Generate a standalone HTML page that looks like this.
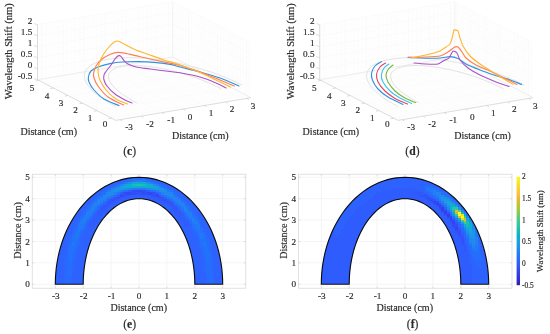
<!DOCTYPE html>
<html><head><meta charset="utf-8"><title>Figure</title>
<style>html,body{margin:0;padding:0;background:#fff}svg{display:block}text{font-family:"Liberation Serif", serif;fill:#2a2a2a;stroke:#2a2a2a;stroke-width:0.16px}</style>
</head><body>
<svg width="550" height="334" viewBox="0 0 550 334">
<rect width="550" height="334" fill="#fff"/>
<line x1="115.8" y1="120.4" x2="37.5" y2="79.7" stroke="#fbfbfb" stroke-width="0.5"/>
<line x1="37.5" y1="79.7" x2="37.5" y2="24.7" stroke="#fafafa" stroke-width="0.5"/>
<line x1="120.0" y1="119.7" x2="41.8" y2="78.9" stroke="#f6f6f6" stroke-width="0.5"/>
<line x1="41.8" y1="78.9" x2="41.8" y2="23.9" stroke="#f5f5f5" stroke-width="0.5"/>
<line x1="124.3" y1="119.0" x2="46.0" y2="78.2" stroke="#fbfbfb" stroke-width="0.5"/>
<line x1="46.0" y1="78.2" x2="46.0" y2="23.2" stroke="#fafafa" stroke-width="0.5"/>
<line x1="128.5" y1="118.3" x2="50.2" y2="77.5" stroke="#fbfbfb" stroke-width="0.5"/>
<line x1="50.2" y1="77.5" x2="50.2" y2="22.5" stroke="#fafafa" stroke-width="0.5"/>
<line x1="132.7" y1="117.6" x2="54.4" y2="76.8" stroke="#fbfbfb" stroke-width="0.5"/>
<line x1="54.4" y1="76.8" x2="54.4" y2="21.8" stroke="#fafafa" stroke-width="0.5"/>
<line x1="136.9" y1="116.9" x2="58.6" y2="76.1" stroke="#fbfbfb" stroke-width="0.5"/>
<line x1="58.6" y1="76.1" x2="58.6" y2="21.1" stroke="#fafafa" stroke-width="0.5"/>
<line x1="141.2" y1="116.2" x2="62.9" y2="75.4" stroke="#f6f6f6" stroke-width="0.5"/>
<line x1="62.9" y1="75.4" x2="62.9" y2="20.4" stroke="#f5f5f5" stroke-width="0.5"/>
<line x1="145.4" y1="115.5" x2="67.1" y2="74.7" stroke="#fbfbfb" stroke-width="0.5"/>
<line x1="67.1" y1="74.7" x2="67.1" y2="19.7" stroke="#fafafa" stroke-width="0.5"/>
<line x1="149.6" y1="114.7" x2="71.3" y2="74.0" stroke="#fbfbfb" stroke-width="0.5"/>
<line x1="71.3" y1="74.0" x2="71.3" y2="19.0" stroke="#fafafa" stroke-width="0.5"/>
<line x1="153.8" y1="114.0" x2="75.5" y2="73.3" stroke="#fbfbfb" stroke-width="0.5"/>
<line x1="75.5" y1="73.3" x2="75.5" y2="18.3" stroke="#fafafa" stroke-width="0.5"/>
<line x1="158.0" y1="113.3" x2="79.7" y2="72.6" stroke="#fbfbfb" stroke-width="0.5"/>
<line x1="79.7" y1="72.6" x2="79.7" y2="17.6" stroke="#fafafa" stroke-width="0.5"/>
<line x1="162.2" y1="112.6" x2="84.0" y2="71.8" stroke="#f6f6f6" stroke-width="0.5"/>
<line x1="84.0" y1="71.8" x2="84.0" y2="16.8" stroke="#f5f5f5" stroke-width="0.5"/>
<line x1="166.5" y1="111.9" x2="88.2" y2="71.1" stroke="#fbfbfb" stroke-width="0.5"/>
<line x1="88.2" y1="71.1" x2="88.2" y2="16.1" stroke="#fafafa" stroke-width="0.5"/>
<line x1="170.7" y1="111.2" x2="92.4" y2="70.4" stroke="#fbfbfb" stroke-width="0.5"/>
<line x1="92.4" y1="70.4" x2="92.4" y2="15.4" stroke="#fafafa" stroke-width="0.5"/>
<line x1="174.9" y1="110.5" x2="96.6" y2="69.7" stroke="#fbfbfb" stroke-width="0.5"/>
<line x1="96.6" y1="69.7" x2="96.6" y2="14.7" stroke="#fafafa" stroke-width="0.5"/>
<line x1="179.1" y1="109.8" x2="100.8" y2="69.0" stroke="#fbfbfb" stroke-width="0.5"/>
<line x1="100.8" y1="69.0" x2="100.8" y2="14.0" stroke="#fafafa" stroke-width="0.5"/>
<line x1="183.3" y1="109.1" x2="105.1" y2="68.3" stroke="#f6f6f6" stroke-width="0.5"/>
<line x1="105.1" y1="68.3" x2="105.1" y2="13.3" stroke="#f5f5f5" stroke-width="0.5"/>
<line x1="187.6" y1="108.4" x2="109.3" y2="67.6" stroke="#fbfbfb" stroke-width="0.5"/>
<line x1="109.3" y1="67.6" x2="109.3" y2="12.6" stroke="#fafafa" stroke-width="0.5"/>
<line x1="191.8" y1="107.6" x2="113.5" y2="66.9" stroke="#fbfbfb" stroke-width="0.5"/>
<line x1="113.5" y1="66.9" x2="113.5" y2="11.9" stroke="#fafafa" stroke-width="0.5"/>
<line x1="196.0" y1="106.9" x2="117.7" y2="66.2" stroke="#fbfbfb" stroke-width="0.5"/>
<line x1="117.7" y1="66.2" x2="117.7" y2="11.2" stroke="#fafafa" stroke-width="0.5"/>
<line x1="200.2" y1="106.2" x2="121.9" y2="65.5" stroke="#fbfbfb" stroke-width="0.5"/>
<line x1="121.9" y1="65.5" x2="121.9" y2="10.5" stroke="#fafafa" stroke-width="0.5"/>
<line x1="204.4" y1="105.5" x2="126.2" y2="64.7" stroke="#f6f6f6" stroke-width="0.5"/>
<line x1="126.2" y1="64.7" x2="126.2" y2="9.7" stroke="#f5f5f5" stroke-width="0.5"/>
<line x1="208.7" y1="104.8" x2="130.4" y2="64.0" stroke="#fbfbfb" stroke-width="0.5"/>
<line x1="130.4" y1="64.0" x2="130.4" y2="9.0" stroke="#fafafa" stroke-width="0.5"/>
<line x1="212.9" y1="104.1" x2="134.6" y2="63.3" stroke="#fbfbfb" stroke-width="0.5"/>
<line x1="134.6" y1="63.3" x2="134.6" y2="8.3" stroke="#fafafa" stroke-width="0.5"/>
<line x1="217.1" y1="103.4" x2="138.8" y2="62.6" stroke="#fbfbfb" stroke-width="0.5"/>
<line x1="138.8" y1="62.6" x2="138.8" y2="7.6" stroke="#fafafa" stroke-width="0.5"/>
<line x1="221.3" y1="102.7" x2="143.0" y2="61.9" stroke="#fbfbfb" stroke-width="0.5"/>
<line x1="143.0" y1="61.9" x2="143.0" y2="6.9" stroke="#fafafa" stroke-width="0.5"/>
<line x1="225.5" y1="102.0" x2="147.2" y2="61.2" stroke="#f6f6f6" stroke-width="0.5"/>
<line x1="147.2" y1="61.2" x2="147.2" y2="6.2" stroke="#f5f5f5" stroke-width="0.5"/>
<line x1="229.8" y1="101.3" x2="151.5" y2="60.5" stroke="#fbfbfb" stroke-width="0.5"/>
<line x1="151.5" y1="60.5" x2="151.5" y2="5.5" stroke="#fafafa" stroke-width="0.5"/>
<line x1="234.0" y1="100.5" x2="155.7" y2="59.8" stroke="#fbfbfb" stroke-width="0.5"/>
<line x1="155.7" y1="59.8" x2="155.7" y2="4.8" stroke="#fafafa" stroke-width="0.5"/>
<line x1="238.2" y1="99.8" x2="159.9" y2="59.1" stroke="#fbfbfb" stroke-width="0.5"/>
<line x1="159.9" y1="59.1" x2="159.9" y2="4.1" stroke="#fafafa" stroke-width="0.5"/>
<line x1="242.4" y1="99.1" x2="164.1" y2="58.4" stroke="#fbfbfb" stroke-width="0.5"/>
<line x1="164.1" y1="58.4" x2="164.1" y2="3.4" stroke="#fafafa" stroke-width="0.5"/>
<line x1="246.7" y1="98.4" x2="168.4" y2="57.6" stroke="#f6f6f6" stroke-width="0.5"/>
<line x1="168.4" y1="57.6" x2="168.4" y2="2.6" stroke="#f5f5f5" stroke-width="0.5"/>
<line x1="250.9" y1="97.7" x2="172.6" y2="56.9" stroke="#fbfbfb" stroke-width="0.5"/>
<line x1="172.6" y1="56.9" x2="172.6" y2="1.9" stroke="#fafafa" stroke-width="0.5"/>
<line x1="114.4" y1="119.7" x2="249.4" y2="97.0" stroke="#fbfbfb" stroke-width="0.5"/>
<line x1="249.4" y1="97.0" x2="249.4" y2="42.0" stroke="#fafafa" stroke-width="0.5"/>
<line x1="111.5" y1="118.2" x2="246.5" y2="95.4" stroke="#f6f6f6" stroke-width="0.5"/>
<line x1="246.5" y1="95.4" x2="246.5" y2="40.4" stroke="#f5f5f5" stroke-width="0.5"/>
<line x1="108.6" y1="116.6" x2="243.6" y2="93.9" stroke="#fbfbfb" stroke-width="0.5"/>
<line x1="243.6" y1="93.9" x2="243.6" y2="38.9" stroke="#fafafa" stroke-width="0.5"/>
<line x1="105.7" y1="115.1" x2="240.7" y2="92.4" stroke="#fbfbfb" stroke-width="0.5"/>
<line x1="240.7" y1="92.4" x2="240.7" y2="37.4" stroke="#fafafa" stroke-width="0.5"/>
<line x1="102.8" y1="113.6" x2="237.8" y2="90.9" stroke="#fbfbfb" stroke-width="0.5"/>
<line x1="237.8" y1="90.9" x2="237.8" y2="35.9" stroke="#fafafa" stroke-width="0.5"/>
<line x1="99.9" y1="112.1" x2="234.9" y2="89.4" stroke="#fbfbfb" stroke-width="0.5"/>
<line x1="234.9" y1="89.4" x2="234.9" y2="34.4" stroke="#fafafa" stroke-width="0.5"/>
<line x1="97.0" y1="110.6" x2="232.0" y2="87.9" stroke="#f6f6f6" stroke-width="0.5"/>
<line x1="232.0" y1="87.9" x2="232.0" y2="32.9" stroke="#f5f5f5" stroke-width="0.5"/>
<line x1="94.1" y1="109.1" x2="229.1" y2="86.4" stroke="#fbfbfb" stroke-width="0.5"/>
<line x1="229.1" y1="86.4" x2="229.1" y2="31.4" stroke="#fafafa" stroke-width="0.5"/>
<line x1="91.2" y1="107.6" x2="226.2" y2="84.9" stroke="#fbfbfb" stroke-width="0.5"/>
<line x1="226.2" y1="84.9" x2="226.2" y2="29.9" stroke="#fafafa" stroke-width="0.5"/>
<line x1="88.3" y1="106.1" x2="223.3" y2="83.4" stroke="#fbfbfb" stroke-width="0.5"/>
<line x1="223.3" y1="83.4" x2="223.3" y2="28.4" stroke="#fafafa" stroke-width="0.5"/>
<line x1="85.4" y1="104.6" x2="220.4" y2="81.8" stroke="#fbfbfb" stroke-width="0.5"/>
<line x1="220.4" y1="81.8" x2="220.4" y2="26.8" stroke="#fafafa" stroke-width="0.5"/>
<line x1="82.5" y1="103.1" x2="217.5" y2="80.3" stroke="#f6f6f6" stroke-width="0.5"/>
<line x1="217.5" y1="80.3" x2="217.5" y2="25.3" stroke="#f5f5f5" stroke-width="0.5"/>
<line x1="79.6" y1="101.5" x2="214.6" y2="78.8" stroke="#fbfbfb" stroke-width="0.5"/>
<line x1="214.6" y1="78.8" x2="214.6" y2="23.8" stroke="#fafafa" stroke-width="0.5"/>
<line x1="76.7" y1="100.0" x2="211.7" y2="77.3" stroke="#fbfbfb" stroke-width="0.5"/>
<line x1="211.7" y1="77.3" x2="211.7" y2="22.3" stroke="#fafafa" stroke-width="0.5"/>
<line x1="73.8" y1="98.5" x2="208.8" y2="75.8" stroke="#fbfbfb" stroke-width="0.5"/>
<line x1="208.8" y1="75.8" x2="208.8" y2="20.8" stroke="#fafafa" stroke-width="0.5"/>
<line x1="70.9" y1="97.0" x2="205.9" y2="74.3" stroke="#fbfbfb" stroke-width="0.5"/>
<line x1="205.9" y1="74.3" x2="205.9" y2="19.3" stroke="#fafafa" stroke-width="0.5"/>
<line x1="68.0" y1="95.5" x2="203.0" y2="72.8" stroke="#f6f6f6" stroke-width="0.5"/>
<line x1="203.0" y1="72.8" x2="203.0" y2="17.8" stroke="#f5f5f5" stroke-width="0.5"/>
<line x1="65.1" y1="94.0" x2="200.1" y2="71.3" stroke="#fbfbfb" stroke-width="0.5"/>
<line x1="200.1" y1="71.3" x2="200.1" y2="16.3" stroke="#fafafa" stroke-width="0.5"/>
<line x1="62.2" y1="92.5" x2="197.2" y2="69.8" stroke="#fbfbfb" stroke-width="0.5"/>
<line x1="197.2" y1="69.8" x2="197.2" y2="14.8" stroke="#fafafa" stroke-width="0.5"/>
<line x1="59.3" y1="91.0" x2="194.3" y2="68.3" stroke="#fbfbfb" stroke-width="0.5"/>
<line x1="194.3" y1="68.3" x2="194.3" y2="13.3" stroke="#fafafa" stroke-width="0.5"/>
<line x1="56.4" y1="89.5" x2="191.4" y2="66.8" stroke="#fbfbfb" stroke-width="0.5"/>
<line x1="191.4" y1="66.8" x2="191.4" y2="11.8" stroke="#fafafa" stroke-width="0.5"/>
<line x1="53.5" y1="88.0" x2="188.5" y2="65.2" stroke="#f6f6f6" stroke-width="0.5"/>
<line x1="188.5" y1="65.2" x2="188.5" y2="10.2" stroke="#f5f5f5" stroke-width="0.5"/>
<line x1="50.6" y1="86.4" x2="185.6" y2="63.7" stroke="#fbfbfb" stroke-width="0.5"/>
<line x1="185.6" y1="63.7" x2="185.6" y2="8.7" stroke="#fafafa" stroke-width="0.5"/>
<line x1="47.7" y1="84.9" x2="182.7" y2="62.2" stroke="#fbfbfb" stroke-width="0.5"/>
<line x1="182.7" y1="62.2" x2="182.7" y2="7.2" stroke="#fafafa" stroke-width="0.5"/>
<line x1="44.8" y1="83.4" x2="179.8" y2="60.7" stroke="#fbfbfb" stroke-width="0.5"/>
<line x1="179.8" y1="60.7" x2="179.8" y2="5.7" stroke="#fafafa" stroke-width="0.5"/>
<line x1="41.9" y1="81.9" x2="176.9" y2="59.2" stroke="#fbfbfb" stroke-width="0.5"/>
<line x1="176.9" y1="59.2" x2="176.9" y2="4.2" stroke="#fafafa" stroke-width="0.5"/>
<line x1="39.0" y1="80.4" x2="174.0" y2="57.7" stroke="#f6f6f6" stroke-width="0.5"/>
<line x1="174.0" y1="57.7" x2="174.0" y2="2.7" stroke="#f5f5f5" stroke-width="0.5"/>
<line x1="37.5" y1="79.7" x2="172.6" y2="56.9" stroke="#f5f5f5" stroke-width="0.5"/>
<line x1="172.6" y1="56.9" x2="250.9" y2="97.7" stroke="#f5f5f5" stroke-width="0.5"/>
<line x1="37.5" y1="77.5" x2="172.6" y2="54.7" stroke="#fafafa" stroke-width="0.5"/>
<line x1="172.6" y1="54.7" x2="250.9" y2="95.5" stroke="#fafafa" stroke-width="0.5"/>
<line x1="37.5" y1="75.3" x2="172.6" y2="52.5" stroke="#fafafa" stroke-width="0.5"/>
<line x1="172.6" y1="52.5" x2="250.9" y2="93.3" stroke="#fafafa" stroke-width="0.5"/>
<line x1="37.5" y1="73.1" x2="172.6" y2="50.3" stroke="#fafafa" stroke-width="0.5"/>
<line x1="172.6" y1="50.3" x2="250.9" y2="91.1" stroke="#fafafa" stroke-width="0.5"/>
<line x1="37.5" y1="70.9" x2="172.6" y2="48.1" stroke="#fafafa" stroke-width="0.5"/>
<line x1="172.6" y1="48.1" x2="250.9" y2="88.9" stroke="#fafafa" stroke-width="0.5"/>
<line x1="37.5" y1="68.7" x2="172.6" y2="45.9" stroke="#f5f5f5" stroke-width="0.5"/>
<line x1="172.6" y1="45.9" x2="250.9" y2="86.7" stroke="#f5f5f5" stroke-width="0.5"/>
<line x1="37.5" y1="66.5" x2="172.6" y2="43.7" stroke="#fafafa" stroke-width="0.5"/>
<line x1="172.6" y1="43.7" x2="250.9" y2="84.5" stroke="#fafafa" stroke-width="0.5"/>
<line x1="37.5" y1="64.3" x2="172.6" y2="41.5" stroke="#fafafa" stroke-width="0.5"/>
<line x1="172.6" y1="41.5" x2="250.9" y2="82.3" stroke="#fafafa" stroke-width="0.5"/>
<line x1="37.5" y1="62.1" x2="172.6" y2="39.3" stroke="#fafafa" stroke-width="0.5"/>
<line x1="172.6" y1="39.3" x2="250.9" y2="80.1" stroke="#fafafa" stroke-width="0.5"/>
<line x1="37.5" y1="59.9" x2="172.6" y2="37.1" stroke="#fafafa" stroke-width="0.5"/>
<line x1="172.6" y1="37.1" x2="250.9" y2="77.9" stroke="#fafafa" stroke-width="0.5"/>
<line x1="37.5" y1="57.7" x2="172.6" y2="34.9" stroke="#f5f5f5" stroke-width="0.5"/>
<line x1="172.6" y1="34.9" x2="250.9" y2="75.7" stroke="#f5f5f5" stroke-width="0.5"/>
<line x1="37.5" y1="55.5" x2="172.6" y2="32.7" stroke="#fafafa" stroke-width="0.5"/>
<line x1="172.6" y1="32.7" x2="250.9" y2="73.5" stroke="#fafafa" stroke-width="0.5"/>
<line x1="37.5" y1="53.3" x2="172.6" y2="30.5" stroke="#fafafa" stroke-width="0.5"/>
<line x1="172.6" y1="30.5" x2="250.9" y2="71.3" stroke="#fafafa" stroke-width="0.5"/>
<line x1="37.5" y1="51.1" x2="172.6" y2="28.3" stroke="#fafafa" stroke-width="0.5"/>
<line x1="172.6" y1="28.3" x2="250.9" y2="69.1" stroke="#fafafa" stroke-width="0.5"/>
<line x1="37.5" y1="48.9" x2="172.6" y2="26.1" stroke="#fafafa" stroke-width="0.5"/>
<line x1="172.6" y1="26.1" x2="250.9" y2="66.9" stroke="#fafafa" stroke-width="0.5"/>
<line x1="37.5" y1="46.7" x2="172.6" y2="23.9" stroke="#f5f5f5" stroke-width="0.5"/>
<line x1="172.6" y1="23.9" x2="250.9" y2="64.7" stroke="#f5f5f5" stroke-width="0.5"/>
<line x1="37.5" y1="44.5" x2="172.6" y2="21.7" stroke="#fafafa" stroke-width="0.5"/>
<line x1="172.6" y1="21.7" x2="250.9" y2="62.5" stroke="#fafafa" stroke-width="0.5"/>
<line x1="37.5" y1="42.3" x2="172.6" y2="19.5" stroke="#fafafa" stroke-width="0.5"/>
<line x1="172.6" y1="19.5" x2="250.9" y2="60.3" stroke="#fafafa" stroke-width="0.5"/>
<line x1="37.5" y1="40.1" x2="172.6" y2="17.3" stroke="#fafafa" stroke-width="0.5"/>
<line x1="172.6" y1="17.3" x2="250.9" y2="58.1" stroke="#fafafa" stroke-width="0.5"/>
<line x1="37.5" y1="37.9" x2="172.6" y2="15.1" stroke="#fafafa" stroke-width="0.5"/>
<line x1="172.6" y1="15.1" x2="250.9" y2="55.9" stroke="#fafafa" stroke-width="0.5"/>
<line x1="37.5" y1="35.7" x2="172.6" y2="12.9" stroke="#f5f5f5" stroke-width="0.5"/>
<line x1="172.6" y1="12.9" x2="250.9" y2="53.7" stroke="#f5f5f5" stroke-width="0.5"/>
<line x1="37.5" y1="33.5" x2="172.6" y2="10.7" stroke="#fafafa" stroke-width="0.5"/>
<line x1="172.6" y1="10.7" x2="250.9" y2="51.5" stroke="#fafafa" stroke-width="0.5"/>
<line x1="37.5" y1="31.3" x2="172.6" y2="8.5" stroke="#fafafa" stroke-width="0.5"/>
<line x1="172.6" y1="8.5" x2="250.9" y2="49.3" stroke="#fafafa" stroke-width="0.5"/>
<line x1="37.5" y1="29.1" x2="172.6" y2="6.3" stroke="#fafafa" stroke-width="0.5"/>
<line x1="172.6" y1="6.3" x2="250.9" y2="47.1" stroke="#fafafa" stroke-width="0.5"/>
<line x1="37.5" y1="26.9" x2="172.6" y2="4.1" stroke="#fafafa" stroke-width="0.5"/>
<line x1="172.6" y1="4.1" x2="250.9" y2="44.9" stroke="#fafafa" stroke-width="0.5"/>
<line x1="37.5" y1="24.7" x2="172.6" y2="1.9" stroke="#f5f5f5" stroke-width="0.5"/>
<line x1="172.6" y1="1.9" x2="250.9" y2="42.7" stroke="#f5f5f5" stroke-width="0.5"/>
<line x1="37.5" y1="79.7" x2="37.5" y2="24.7" stroke="#cfcfcf" stroke-width="0.7"/>
<line x1="37.5" y1="79.7" x2="115.8" y2="120.4" stroke="#cfcfcf" stroke-width="0.7"/>
<line x1="115.8" y1="120.4" x2="250.9" y2="97.7" stroke="#cfcfcf" stroke-width="0.7"/>
<line x1="172.6" y1="56.9" x2="172.6" y2="1.9" stroke="#ececec" stroke-width="0.6"/>
<line x1="37.5" y1="79.7" x2="172.6" y2="56.9" stroke="#e6e6e6" stroke-width="0.6"/>
<line x1="172.6" y1="56.9" x2="250.9" y2="97.7" stroke="#e6e6e6" stroke-width="0.6"/>
<line x1="37.5" y1="24.7" x2="34.1" y2="23.6" stroke="#cfcfcf" stroke-width="0.7"/>
<line x1="37.5" y1="35.7" x2="34.1" y2="34.6" stroke="#cfcfcf" stroke-width="0.7"/>
<line x1="37.5" y1="46.7" x2="34.1" y2="45.6" stroke="#cfcfcf" stroke-width="0.7"/>
<line x1="37.5" y1="57.7" x2="34.1" y2="56.6" stroke="#cfcfcf" stroke-width="0.7"/>
<line x1="37.5" y1="68.7" x2="34.1" y2="67.6" stroke="#cfcfcf" stroke-width="0.7"/>
<line x1="37.5" y1="79.7" x2="34.1" y2="78.6" stroke="#cfcfcf" stroke-width="0.7"/>
<line x1="111.5" y1="118.2" x2="108.3" y2="118.8" stroke="#cfcfcf" stroke-width="0.7"/>
<line x1="97.0" y1="110.6" x2="93.8" y2="111.2" stroke="#cfcfcf" stroke-width="0.7"/>
<line x1="82.5" y1="103.1" x2="79.3" y2="103.7" stroke="#cfcfcf" stroke-width="0.7"/>
<line x1="68.0" y1="95.5" x2="64.8" y2="96.1" stroke="#cfcfcf" stroke-width="0.7"/>
<line x1="53.5" y1="88.0" x2="50.3" y2="88.6" stroke="#cfcfcf" stroke-width="0.7"/>
<line x1="39.0" y1="80.4" x2="35.8" y2="81.0" stroke="#cfcfcf" stroke-width="0.7"/>
<line x1="120.0" y1="119.7" x2="122.2" y2="121.0" stroke="#cfcfcf" stroke-width="0.7"/>
<line x1="141.2" y1="116.2" x2="143.3" y2="117.5" stroke="#cfcfcf" stroke-width="0.7"/>
<line x1="162.2" y1="112.6" x2="164.4" y2="113.9" stroke="#cfcfcf" stroke-width="0.7"/>
<line x1="183.3" y1="109.1" x2="185.5" y2="110.4" stroke="#cfcfcf" stroke-width="0.7"/>
<line x1="204.4" y1="105.5" x2="206.6" y2="106.8" stroke="#cfcfcf" stroke-width="0.7"/>
<line x1="225.5" y1="102.0" x2="227.7" y2="103.3" stroke="#cfcfcf" stroke-width="0.7"/>
<line x1="246.7" y1="98.4" x2="248.8" y2="99.7" stroke="#cfcfcf" stroke-width="0.7"/>
<text x="32.3" y="23.9" font-size="9.2" text-anchor="end" >2</text>
<text x="32.3" y="34.9" font-size="9.2" text-anchor="end" >1.5</text>
<text x="32.3" y="45.9" font-size="9.2" text-anchor="end" >1</text>
<text x="32.3" y="56.9" font-size="9.2" text-anchor="end" >0.5</text>
<text x="32.3" y="67.9" font-size="9.2" text-anchor="end" >0</text>
<text x="32.3" y="78.9" font-size="9.2" text-anchor="end" >-0.5</text>
<text x="32.0" y="90.9" font-size="9.2" text-anchor="middle" >5</text>
<text x="47.0" y="98.5" font-size="9.2" text-anchor="middle" >4</text>
<text x="61.0" y="105.5" font-size="9.2" text-anchor="middle" >3</text>
<text x="75.6" y="112.9" font-size="9.2" text-anchor="middle" >2</text>
<text x="90.0" y="120.5" font-size="9.2" text-anchor="middle" >1</text>
<text x="105.0" y="127.3" font-size="9.2" text-anchor="middle" >0</text>
<text x="129.0" y="129.9" font-size="9.2" text-anchor="middle" >-3</text>
<text x="150.0" y="126.7" font-size="9.2" text-anchor="middle" >-2</text>
<text x="171.2" y="123.1" font-size="9.2" text-anchor="middle" >-1</text>
<text x="190.0" y="119.5" font-size="9.2" text-anchor="middle" >0</text>
<text x="211.0" y="115.9" font-size="9.2" text-anchor="middle" >1</text>
<text x="232.0" y="112.3" font-size="9.2" text-anchor="middle" >2</text>
<text x="253.0" y="108.5" font-size="9.2" text-anchor="middle" >3</text>
<text x="200.3" y="138.6" font-size="9.5" text-anchor="middle" textLength="56.6" lengthAdjust="spacingAndGlyphs">Distance (cm)</text>
<text x="48.7" y="135.0" font-size="9.5" text-anchor="middle" textLength="56.6" lengthAdjust="spacingAndGlyphs">Distance (cm)</text>
<text transform="translate(12.2,51.3) rotate(-90)" font-size="9.5" text-anchor="middle" textLength="96" lengthAdjust="spacingAndGlyphs">Wavelength Shift (nm)</text>
<path d="M115.7,106.4 L110.4,103.5 L105.5,100.6 L101.0,97.6 L97.1,94.6 L93.6,91.6 L90.7,88.7 L88.3,85.7 L86.5,82.9 L85.2,80.1 L84.5,77.4 L84.4,74.9 L84.9,72.4 L86.0,70.1 L87.6,68.0 L89.8,66.0 L92.6,64.3 L95.8,62.7 L99.6,61.3 L103.9,60.1 L108.7,59.2 L113.9,58.5 L119.4,58.0 L125.4,57.7 L131.7,57.7 L138.3,57.9 L145.1,58.3 L152.1,59.0 L159.3,59.9 L166.6,61.0 L174.0,62.4 L181.5,63.9 L188.9,65.7 L196.2,67.6 L203.5,69.7 L210.6,71.9 L217.5,74.4 L224.1,76.9 L230.5,79.6 L236.6,82.3 L242.3,85.2" fill="none" stroke="#e3e3e3" stroke-width="1"/>
<path d="M136.8,102.9 L132.5,100.6 L128.5,98.2 L124.8,95.8 L121.4,93.5 L118.4,91.1 L115.7,88.8 L113.5,86.5 L111.6,84.2 L110.2,82.1 L109.2,80.0 L108.6,78.0 L108.4,76.2 L108.7,74.4 L109.5,72.8 L110.6,71.3 L112.2,70.0 L114.2,68.8 L116.5,67.8 L119.3,67.0 L122.5,66.4 L125.9,65.9 L129.7,65.6 L133.9,65.5 L138.3,65.6 L142.9,65.9 L147.8,66.3 L152.8,67.0 L158.1,67.8 L163.4,68.8 L168.9,70.0 L174.4,71.3 L179.9,72.7 L185.4,74.4 L190.9,76.1 L196.3,78.0 L201.7,79.9 L206.8,82.0 L211.8,84.2 L216.6,86.4 L221.2,88.7" fill="none" stroke="#e3e3e3" stroke-width="1"/>
<path d="M119.0,105.6C116.5,104.5 108.2,101.6 104.0,99.0C99.8,96.4 96.5,92.8 94.0,90.0C91.5,87.2 89.9,84.2 89.0,82.0C88.1,79.8 88.1,78.8 88.4,77.0C88.7,75.2 89.4,72.7 91.0,71.0C92.6,69.3 94.8,68.2 98.0,67.0C101.2,65.8 106.0,64.4 110.0,63.6C114.0,62.8 117.3,62.3 122.0,62.0C126.7,61.7 132.7,61.5 138.0,61.6C143.3,61.7 148.7,61.9 154.0,62.4C159.3,62.9 165.7,63.6 170.0,64.4C174.3,65.2 175.0,65.7 180.0,67.0C185.0,68.3 193.3,70.2 200.0,72.0C206.7,73.8 213.5,75.7 220.0,78.0C226.5,80.3 235.8,84.7 239.0,86.0" fill="none" stroke="#3092e2" stroke-width="1.12" stroke-linecap="round" stroke-linejoin="round"/>
<path d="M123.6,105.0C121.0,103.7 112.3,100.2 108.0,97.0C103.7,93.8 100.3,89.2 98.0,86.0C95.7,82.8 94.7,80.2 94.0,78.0C93.3,75.8 93.3,75.0 93.6,73.0C93.9,71.0 94.6,68.3 96.0,66.0C97.4,63.7 99.7,60.9 102.0,59.0C104.3,57.1 107.3,55.5 110.0,54.4C112.7,53.3 114.7,52.4 118.0,52.4C121.3,52.4 124.7,53.3 130.0,54.4C135.3,55.5 144.0,57.7 150.0,59.0C156.0,60.3 161.0,61.3 166.0,62.4C171.0,63.5 174.3,63.8 180.0,65.4C185.7,67.0 193.3,69.6 200.0,72.0C206.7,74.4 214.3,77.7 220.0,80.0C225.7,82.3 232.0,85.0 234.4,86.0" fill="none" stroke="#ff7d50" stroke-width="1.12" stroke-linecap="round" stroke-linejoin="round"/>
<path d="M127.6,104.0C125.7,103.2 119.6,101.3 116.0,99.0C112.4,96.7 108.7,93.2 106.0,90.0C103.3,86.8 101.3,83.0 100.0,80.0C98.7,77.0 98.2,74.7 98.0,72.0C97.8,69.3 98.2,66.8 99.0,64.0C99.8,61.2 101.3,57.8 103.0,55.0C104.7,52.2 107.2,49.1 109.0,47.0C110.8,44.9 112.2,43.5 113.5,42.5C114.8,41.5 115.8,41.1 117.0,41.0C118.2,40.9 119.3,41.5 120.5,42.0C121.7,42.5 121.4,42.7 124.0,44.0C126.6,45.3 131.7,48.2 136.0,50.0C140.3,51.8 145.3,53.3 150.0,55.0C154.7,56.7 159.0,58.3 164.0,60.0C169.0,61.7 174.0,62.9 180.0,65.0C186.0,67.1 194.0,70.0 200.0,72.5C206.0,75.0 210.9,77.6 216.0,80.0C221.1,82.4 228.0,85.8 230.4,87.0" fill="none" stroke="#ffb62e" stroke-width="1.12" stroke-linecap="round" stroke-linejoin="round"/>
<path d="M132.0,103.0C130.8,102.5 127.8,101.5 125.0,100.0C122.2,98.5 118.0,96.3 115.0,94.0C112.0,91.7 108.8,88.3 107.0,86.0C105.2,83.7 104.5,81.8 104.0,80.0C103.5,78.2 103.7,76.4 104.0,75.0C104.3,73.6 104.8,73.2 106.0,71.5C107.2,69.8 109.5,67.1 111.0,65.0C112.5,62.9 113.9,60.5 115.0,59.0C116.1,57.5 116.8,56.8 117.5,56.2C118.2,55.6 118.8,55.5 119.5,55.6C120.2,55.7 120.8,56.2 121.5,57.0C122.2,57.8 122.9,59.3 124.0,60.5C125.1,61.7 126.0,62.9 128.0,64.0C130.0,65.1 132.3,66.2 136.0,67.0C139.7,67.8 145.0,68.3 150.0,69.0C155.0,69.7 161.0,70.4 166.0,71.0C171.0,71.6 174.3,71.8 180.0,72.8C185.7,73.8 194.0,75.3 200.0,77.0C206.0,78.7 211.7,81.2 216.0,83.0C220.3,84.8 224.3,87.2 226.0,88.0" fill="none" stroke="#aa52c6" stroke-width="1.12" stroke-linecap="round" stroke-linejoin="round"/>
<text x="129.7" y="155.0" font-size="11.6" text-anchor="middle" >(<tspan font-weight="bold">c</tspan>)</text>
<line x1="398.0" y1="120.4" x2="319.7" y2="79.7" stroke="#fbfbfb" stroke-width="0.5"/>
<line x1="319.7" y1="79.7" x2="319.7" y2="24.7" stroke="#fafafa" stroke-width="0.5"/>
<line x1="402.2" y1="119.7" x2="323.9" y2="78.9" stroke="#f6f6f6" stroke-width="0.5"/>
<line x1="323.9" y1="78.9" x2="323.9" y2="23.9" stroke="#f5f5f5" stroke-width="0.5"/>
<line x1="406.5" y1="119.0" x2="328.2" y2="78.2" stroke="#fbfbfb" stroke-width="0.5"/>
<line x1="328.2" y1="78.2" x2="328.2" y2="23.2" stroke="#fafafa" stroke-width="0.5"/>
<line x1="410.7" y1="118.3" x2="332.4" y2="77.5" stroke="#fbfbfb" stroke-width="0.5"/>
<line x1="332.4" y1="77.5" x2="332.4" y2="22.5" stroke="#fafafa" stroke-width="0.5"/>
<line x1="414.9" y1="117.6" x2="336.6" y2="76.8" stroke="#fbfbfb" stroke-width="0.5"/>
<line x1="336.6" y1="76.8" x2="336.6" y2="21.8" stroke="#fafafa" stroke-width="0.5"/>
<line x1="419.1" y1="116.9" x2="340.8" y2="76.1" stroke="#fbfbfb" stroke-width="0.5"/>
<line x1="340.8" y1="76.1" x2="340.8" y2="21.1" stroke="#fafafa" stroke-width="0.5"/>
<line x1="423.4" y1="116.2" x2="345.1" y2="75.4" stroke="#f6f6f6" stroke-width="0.5"/>
<line x1="345.1" y1="75.4" x2="345.1" y2="20.4" stroke="#f5f5f5" stroke-width="0.5"/>
<line x1="427.6" y1="115.5" x2="349.3" y2="74.7" stroke="#fbfbfb" stroke-width="0.5"/>
<line x1="349.3" y1="74.7" x2="349.3" y2="19.7" stroke="#fafafa" stroke-width="0.5"/>
<line x1="431.8" y1="114.7" x2="353.5" y2="74.0" stroke="#fbfbfb" stroke-width="0.5"/>
<line x1="353.5" y1="74.0" x2="353.5" y2="19.0" stroke="#fafafa" stroke-width="0.5"/>
<line x1="436.0" y1="114.0" x2="357.7" y2="73.3" stroke="#fbfbfb" stroke-width="0.5"/>
<line x1="357.7" y1="73.3" x2="357.7" y2="18.3" stroke="#fafafa" stroke-width="0.5"/>
<line x1="440.2" y1="113.3" x2="361.9" y2="72.6" stroke="#fbfbfb" stroke-width="0.5"/>
<line x1="361.9" y1="72.6" x2="361.9" y2="17.6" stroke="#fafafa" stroke-width="0.5"/>
<line x1="444.4" y1="112.6" x2="366.1" y2="71.8" stroke="#f6f6f6" stroke-width="0.5"/>
<line x1="366.1" y1="71.8" x2="366.1" y2="16.8" stroke="#f5f5f5" stroke-width="0.5"/>
<line x1="448.7" y1="111.9" x2="370.4" y2="71.1" stroke="#fbfbfb" stroke-width="0.5"/>
<line x1="370.4" y1="71.1" x2="370.4" y2="16.1" stroke="#fafafa" stroke-width="0.5"/>
<line x1="452.9" y1="111.2" x2="374.6" y2="70.4" stroke="#fbfbfb" stroke-width="0.5"/>
<line x1="374.6" y1="70.4" x2="374.6" y2="15.4" stroke="#fafafa" stroke-width="0.5"/>
<line x1="457.1" y1="110.5" x2="378.8" y2="69.7" stroke="#fbfbfb" stroke-width="0.5"/>
<line x1="378.8" y1="69.7" x2="378.8" y2="14.7" stroke="#fafafa" stroke-width="0.5"/>
<line x1="461.3" y1="109.8" x2="383.0" y2="69.0" stroke="#fbfbfb" stroke-width="0.5"/>
<line x1="383.0" y1="69.0" x2="383.0" y2="14.0" stroke="#fafafa" stroke-width="0.5"/>
<line x1="465.6" y1="109.1" x2="387.2" y2="68.3" stroke="#f6f6f6" stroke-width="0.5"/>
<line x1="387.2" y1="68.3" x2="387.2" y2="13.3" stroke="#f5f5f5" stroke-width="0.5"/>
<line x1="469.8" y1="108.4" x2="391.5" y2="67.6" stroke="#fbfbfb" stroke-width="0.5"/>
<line x1="391.5" y1="67.6" x2="391.5" y2="12.6" stroke="#fafafa" stroke-width="0.5"/>
<line x1="474.0" y1="107.6" x2="395.7" y2="66.9" stroke="#fbfbfb" stroke-width="0.5"/>
<line x1="395.7" y1="66.9" x2="395.7" y2="11.9" stroke="#fafafa" stroke-width="0.5"/>
<line x1="478.2" y1="106.9" x2="399.9" y2="66.2" stroke="#fbfbfb" stroke-width="0.5"/>
<line x1="399.9" y1="66.2" x2="399.9" y2="11.2" stroke="#fafafa" stroke-width="0.5"/>
<line x1="482.4" y1="106.2" x2="404.1" y2="65.5" stroke="#fbfbfb" stroke-width="0.5"/>
<line x1="404.1" y1="65.5" x2="404.1" y2="10.5" stroke="#fafafa" stroke-width="0.5"/>
<line x1="486.7" y1="105.5" x2="408.4" y2="64.7" stroke="#f6f6f6" stroke-width="0.5"/>
<line x1="408.4" y1="64.7" x2="408.4" y2="9.7" stroke="#f5f5f5" stroke-width="0.5"/>
<line x1="490.9" y1="104.8" x2="412.6" y2="64.0" stroke="#fbfbfb" stroke-width="0.5"/>
<line x1="412.6" y1="64.0" x2="412.6" y2="9.0" stroke="#fafafa" stroke-width="0.5"/>
<line x1="495.1" y1="104.1" x2="416.8" y2="63.3" stroke="#fbfbfb" stroke-width="0.5"/>
<line x1="416.8" y1="63.3" x2="416.8" y2="8.3" stroke="#fafafa" stroke-width="0.5"/>
<line x1="499.3" y1="103.4" x2="421.0" y2="62.6" stroke="#fbfbfb" stroke-width="0.5"/>
<line x1="421.0" y1="62.6" x2="421.0" y2="7.6" stroke="#fafafa" stroke-width="0.5"/>
<line x1="503.5" y1="102.7" x2="425.2" y2="61.9" stroke="#fbfbfb" stroke-width="0.5"/>
<line x1="425.2" y1="61.9" x2="425.2" y2="6.9" stroke="#fafafa" stroke-width="0.5"/>
<line x1="507.8" y1="102.0" x2="429.4" y2="61.2" stroke="#f6f6f6" stroke-width="0.5"/>
<line x1="429.4" y1="61.2" x2="429.4" y2="6.2" stroke="#f5f5f5" stroke-width="0.5"/>
<line x1="512.0" y1="101.3" x2="433.7" y2="60.5" stroke="#fbfbfb" stroke-width="0.5"/>
<line x1="433.7" y1="60.5" x2="433.7" y2="5.5" stroke="#fafafa" stroke-width="0.5"/>
<line x1="516.2" y1="100.5" x2="437.9" y2="59.8" stroke="#fbfbfb" stroke-width="0.5"/>
<line x1="437.9" y1="59.8" x2="437.9" y2="4.8" stroke="#fafafa" stroke-width="0.5"/>
<line x1="520.4" y1="99.8" x2="442.1" y2="59.1" stroke="#fbfbfb" stroke-width="0.5"/>
<line x1="442.1" y1="59.1" x2="442.1" y2="4.1" stroke="#fafafa" stroke-width="0.5"/>
<line x1="524.6" y1="99.1" x2="446.3" y2="58.4" stroke="#fbfbfb" stroke-width="0.5"/>
<line x1="446.3" y1="58.4" x2="446.3" y2="3.4" stroke="#fafafa" stroke-width="0.5"/>
<line x1="528.9" y1="98.4" x2="450.6" y2="57.6" stroke="#f6f6f6" stroke-width="0.5"/>
<line x1="450.6" y1="57.6" x2="450.6" y2="2.6" stroke="#f5f5f5" stroke-width="0.5"/>
<line x1="533.1" y1="97.7" x2="454.8" y2="56.9" stroke="#fbfbfb" stroke-width="0.5"/>
<line x1="454.8" y1="56.9" x2="454.8" y2="1.9" stroke="#fafafa" stroke-width="0.5"/>
<line x1="396.6" y1="119.7" x2="531.6" y2="97.0" stroke="#fbfbfb" stroke-width="0.5"/>
<line x1="531.6" y1="97.0" x2="531.6" y2="42.0" stroke="#fafafa" stroke-width="0.5"/>
<line x1="393.7" y1="118.2" x2="528.7" y2="95.4" stroke="#f6f6f6" stroke-width="0.5"/>
<line x1="528.7" y1="95.4" x2="528.7" y2="40.4" stroke="#f5f5f5" stroke-width="0.5"/>
<line x1="390.8" y1="116.6" x2="525.8" y2="93.9" stroke="#fbfbfb" stroke-width="0.5"/>
<line x1="525.8" y1="93.9" x2="525.8" y2="38.9" stroke="#fafafa" stroke-width="0.5"/>
<line x1="387.9" y1="115.1" x2="522.9" y2="92.4" stroke="#fbfbfb" stroke-width="0.5"/>
<line x1="522.9" y1="92.4" x2="522.9" y2="37.4" stroke="#fafafa" stroke-width="0.5"/>
<line x1="385.0" y1="113.6" x2="520.0" y2="90.9" stroke="#fbfbfb" stroke-width="0.5"/>
<line x1="520.0" y1="90.9" x2="520.0" y2="35.9" stroke="#fafafa" stroke-width="0.5"/>
<line x1="382.1" y1="112.1" x2="517.1" y2="89.4" stroke="#fbfbfb" stroke-width="0.5"/>
<line x1="517.1" y1="89.4" x2="517.1" y2="34.4" stroke="#fafafa" stroke-width="0.5"/>
<line x1="379.2" y1="110.6" x2="514.2" y2="87.9" stroke="#f6f6f6" stroke-width="0.5"/>
<line x1="514.2" y1="87.9" x2="514.2" y2="32.9" stroke="#f5f5f5" stroke-width="0.5"/>
<line x1="376.3" y1="109.1" x2="511.3" y2="86.4" stroke="#fbfbfb" stroke-width="0.5"/>
<line x1="511.3" y1="86.4" x2="511.3" y2="31.4" stroke="#fafafa" stroke-width="0.5"/>
<line x1="373.4" y1="107.6" x2="508.4" y2="84.9" stroke="#fbfbfb" stroke-width="0.5"/>
<line x1="508.4" y1="84.9" x2="508.4" y2="29.9" stroke="#fafafa" stroke-width="0.5"/>
<line x1="370.5" y1="106.1" x2="505.5" y2="83.4" stroke="#fbfbfb" stroke-width="0.5"/>
<line x1="505.5" y1="83.4" x2="505.5" y2="28.4" stroke="#fafafa" stroke-width="0.5"/>
<line x1="367.6" y1="104.6" x2="502.6" y2="81.8" stroke="#fbfbfb" stroke-width="0.5"/>
<line x1="502.6" y1="81.8" x2="502.6" y2="26.8" stroke="#fafafa" stroke-width="0.5"/>
<line x1="364.7" y1="103.1" x2="499.7" y2="80.3" stroke="#f6f6f6" stroke-width="0.5"/>
<line x1="499.7" y1="80.3" x2="499.7" y2="25.3" stroke="#f5f5f5" stroke-width="0.5"/>
<line x1="361.8" y1="101.5" x2="496.8" y2="78.8" stroke="#fbfbfb" stroke-width="0.5"/>
<line x1="496.8" y1="78.8" x2="496.8" y2="23.8" stroke="#fafafa" stroke-width="0.5"/>
<line x1="358.9" y1="100.0" x2="493.9" y2="77.3" stroke="#fbfbfb" stroke-width="0.5"/>
<line x1="493.9" y1="77.3" x2="493.9" y2="22.3" stroke="#fafafa" stroke-width="0.5"/>
<line x1="356.0" y1="98.5" x2="491.0" y2="75.8" stroke="#fbfbfb" stroke-width="0.5"/>
<line x1="491.0" y1="75.8" x2="491.0" y2="20.8" stroke="#fafafa" stroke-width="0.5"/>
<line x1="353.1" y1="97.0" x2="488.1" y2="74.3" stroke="#fbfbfb" stroke-width="0.5"/>
<line x1="488.1" y1="74.3" x2="488.1" y2="19.3" stroke="#fafafa" stroke-width="0.5"/>
<line x1="350.2" y1="95.5" x2="485.2" y2="72.8" stroke="#f6f6f6" stroke-width="0.5"/>
<line x1="485.2" y1="72.8" x2="485.2" y2="17.8" stroke="#f5f5f5" stroke-width="0.5"/>
<line x1="347.3" y1="94.0" x2="482.3" y2="71.3" stroke="#fbfbfb" stroke-width="0.5"/>
<line x1="482.3" y1="71.3" x2="482.3" y2="16.3" stroke="#fafafa" stroke-width="0.5"/>
<line x1="344.4" y1="92.5" x2="479.4" y2="69.8" stroke="#fbfbfb" stroke-width="0.5"/>
<line x1="479.4" y1="69.8" x2="479.4" y2="14.8" stroke="#fafafa" stroke-width="0.5"/>
<line x1="341.5" y1="91.0" x2="476.5" y2="68.3" stroke="#fbfbfb" stroke-width="0.5"/>
<line x1="476.5" y1="68.3" x2="476.5" y2="13.3" stroke="#fafafa" stroke-width="0.5"/>
<line x1="338.6" y1="89.5" x2="473.6" y2="66.8" stroke="#fbfbfb" stroke-width="0.5"/>
<line x1="473.6" y1="66.8" x2="473.6" y2="11.8" stroke="#fafafa" stroke-width="0.5"/>
<line x1="335.7" y1="88.0" x2="470.7" y2="65.2" stroke="#f6f6f6" stroke-width="0.5"/>
<line x1="470.7" y1="65.2" x2="470.7" y2="10.2" stroke="#f5f5f5" stroke-width="0.5"/>
<line x1="332.8" y1="86.4" x2="467.8" y2="63.7" stroke="#fbfbfb" stroke-width="0.5"/>
<line x1="467.8" y1="63.7" x2="467.8" y2="8.7" stroke="#fafafa" stroke-width="0.5"/>
<line x1="329.9" y1="84.9" x2="464.9" y2="62.2" stroke="#fbfbfb" stroke-width="0.5"/>
<line x1="464.9" y1="62.2" x2="464.9" y2="7.2" stroke="#fafafa" stroke-width="0.5"/>
<line x1="327.0" y1="83.4" x2="462.0" y2="60.7" stroke="#fbfbfb" stroke-width="0.5"/>
<line x1="462.0" y1="60.7" x2="462.0" y2="5.7" stroke="#fafafa" stroke-width="0.5"/>
<line x1="324.1" y1="81.9" x2="459.1" y2="59.2" stroke="#fbfbfb" stroke-width="0.5"/>
<line x1="459.1" y1="59.2" x2="459.1" y2="4.2" stroke="#fafafa" stroke-width="0.5"/>
<line x1="321.2" y1="80.4" x2="456.2" y2="57.7" stroke="#f6f6f6" stroke-width="0.5"/>
<line x1="456.2" y1="57.7" x2="456.2" y2="2.7" stroke="#f5f5f5" stroke-width="0.5"/>
<line x1="319.7" y1="79.7" x2="454.8" y2="56.9" stroke="#f5f5f5" stroke-width="0.5"/>
<line x1="454.8" y1="56.9" x2="533.1" y2="97.7" stroke="#f5f5f5" stroke-width="0.5"/>
<line x1="319.7" y1="77.5" x2="454.8" y2="54.7" stroke="#fafafa" stroke-width="0.5"/>
<line x1="454.8" y1="54.7" x2="533.1" y2="95.5" stroke="#fafafa" stroke-width="0.5"/>
<line x1="319.7" y1="75.3" x2="454.8" y2="52.5" stroke="#fafafa" stroke-width="0.5"/>
<line x1="454.8" y1="52.5" x2="533.1" y2="93.3" stroke="#fafafa" stroke-width="0.5"/>
<line x1="319.7" y1="73.1" x2="454.8" y2="50.3" stroke="#fafafa" stroke-width="0.5"/>
<line x1="454.8" y1="50.3" x2="533.1" y2="91.1" stroke="#fafafa" stroke-width="0.5"/>
<line x1="319.7" y1="70.9" x2="454.8" y2="48.1" stroke="#fafafa" stroke-width="0.5"/>
<line x1="454.8" y1="48.1" x2="533.1" y2="88.9" stroke="#fafafa" stroke-width="0.5"/>
<line x1="319.7" y1="68.7" x2="454.8" y2="45.9" stroke="#f5f5f5" stroke-width="0.5"/>
<line x1="454.8" y1="45.9" x2="533.1" y2="86.7" stroke="#f5f5f5" stroke-width="0.5"/>
<line x1="319.7" y1="66.5" x2="454.8" y2="43.7" stroke="#fafafa" stroke-width="0.5"/>
<line x1="454.8" y1="43.7" x2="533.1" y2="84.5" stroke="#fafafa" stroke-width="0.5"/>
<line x1="319.7" y1="64.3" x2="454.8" y2="41.5" stroke="#fafafa" stroke-width="0.5"/>
<line x1="454.8" y1="41.5" x2="533.1" y2="82.3" stroke="#fafafa" stroke-width="0.5"/>
<line x1="319.7" y1="62.1" x2="454.8" y2="39.3" stroke="#fafafa" stroke-width="0.5"/>
<line x1="454.8" y1="39.3" x2="533.1" y2="80.1" stroke="#fafafa" stroke-width="0.5"/>
<line x1="319.7" y1="59.9" x2="454.8" y2="37.1" stroke="#fafafa" stroke-width="0.5"/>
<line x1="454.8" y1="37.1" x2="533.1" y2="77.9" stroke="#fafafa" stroke-width="0.5"/>
<line x1="319.7" y1="57.7" x2="454.8" y2="34.9" stroke="#f5f5f5" stroke-width="0.5"/>
<line x1="454.8" y1="34.9" x2="533.1" y2="75.7" stroke="#f5f5f5" stroke-width="0.5"/>
<line x1="319.7" y1="55.5" x2="454.8" y2="32.7" stroke="#fafafa" stroke-width="0.5"/>
<line x1="454.8" y1="32.7" x2="533.1" y2="73.5" stroke="#fafafa" stroke-width="0.5"/>
<line x1="319.7" y1="53.3" x2="454.8" y2="30.5" stroke="#fafafa" stroke-width="0.5"/>
<line x1="454.8" y1="30.5" x2="533.1" y2="71.3" stroke="#fafafa" stroke-width="0.5"/>
<line x1="319.7" y1="51.1" x2="454.8" y2="28.3" stroke="#fafafa" stroke-width="0.5"/>
<line x1="454.8" y1="28.3" x2="533.1" y2="69.1" stroke="#fafafa" stroke-width="0.5"/>
<line x1="319.7" y1="48.9" x2="454.8" y2="26.1" stroke="#fafafa" stroke-width="0.5"/>
<line x1="454.8" y1="26.1" x2="533.1" y2="66.9" stroke="#fafafa" stroke-width="0.5"/>
<line x1="319.7" y1="46.7" x2="454.8" y2="23.9" stroke="#f5f5f5" stroke-width="0.5"/>
<line x1="454.8" y1="23.9" x2="533.1" y2="64.7" stroke="#f5f5f5" stroke-width="0.5"/>
<line x1="319.7" y1="44.5" x2="454.8" y2="21.7" stroke="#fafafa" stroke-width="0.5"/>
<line x1="454.8" y1="21.7" x2="533.1" y2="62.5" stroke="#fafafa" stroke-width="0.5"/>
<line x1="319.7" y1="42.3" x2="454.8" y2="19.5" stroke="#fafafa" stroke-width="0.5"/>
<line x1="454.8" y1="19.5" x2="533.1" y2="60.3" stroke="#fafafa" stroke-width="0.5"/>
<line x1="319.7" y1="40.1" x2="454.8" y2="17.3" stroke="#fafafa" stroke-width="0.5"/>
<line x1="454.8" y1="17.3" x2="533.1" y2="58.1" stroke="#fafafa" stroke-width="0.5"/>
<line x1="319.7" y1="37.9" x2="454.8" y2="15.1" stroke="#fafafa" stroke-width="0.5"/>
<line x1="454.8" y1="15.1" x2="533.1" y2="55.9" stroke="#fafafa" stroke-width="0.5"/>
<line x1="319.7" y1="35.7" x2="454.8" y2="12.9" stroke="#f5f5f5" stroke-width="0.5"/>
<line x1="454.8" y1="12.9" x2="533.1" y2="53.7" stroke="#f5f5f5" stroke-width="0.5"/>
<line x1="319.7" y1="33.5" x2="454.8" y2="10.7" stroke="#fafafa" stroke-width="0.5"/>
<line x1="454.8" y1="10.7" x2="533.1" y2="51.5" stroke="#fafafa" stroke-width="0.5"/>
<line x1="319.7" y1="31.3" x2="454.8" y2="8.5" stroke="#fafafa" stroke-width="0.5"/>
<line x1="454.8" y1="8.5" x2="533.1" y2="49.3" stroke="#fafafa" stroke-width="0.5"/>
<line x1="319.7" y1="29.1" x2="454.8" y2="6.3" stroke="#fafafa" stroke-width="0.5"/>
<line x1="454.8" y1="6.3" x2="533.1" y2="47.1" stroke="#fafafa" stroke-width="0.5"/>
<line x1="319.7" y1="26.9" x2="454.8" y2="4.1" stroke="#fafafa" stroke-width="0.5"/>
<line x1="454.8" y1="4.1" x2="533.1" y2="44.9" stroke="#fafafa" stroke-width="0.5"/>
<line x1="319.7" y1="24.7" x2="454.8" y2="1.9" stroke="#f5f5f5" stroke-width="0.5"/>
<line x1="454.8" y1="1.9" x2="533.1" y2="42.7" stroke="#f5f5f5" stroke-width="0.5"/>
<line x1="319.7" y1="79.7" x2="319.7" y2="24.7" stroke="#cfcfcf" stroke-width="0.7"/>
<line x1="319.7" y1="79.7" x2="398.0" y2="120.4" stroke="#cfcfcf" stroke-width="0.7"/>
<line x1="398.0" y1="120.4" x2="533.1" y2="97.7" stroke="#cfcfcf" stroke-width="0.7"/>
<line x1="454.8" y1="56.9" x2="454.8" y2="1.9" stroke="#ececec" stroke-width="0.6"/>
<line x1="319.7" y1="79.7" x2="454.8" y2="56.9" stroke="#e6e6e6" stroke-width="0.6"/>
<line x1="454.8" y1="56.9" x2="533.1" y2="97.7" stroke="#e6e6e6" stroke-width="0.6"/>
<line x1="319.7" y1="24.7" x2="316.3" y2="23.6" stroke="#cfcfcf" stroke-width="0.7"/>
<line x1="319.7" y1="35.7" x2="316.3" y2="34.6" stroke="#cfcfcf" stroke-width="0.7"/>
<line x1="319.7" y1="46.7" x2="316.3" y2="45.6" stroke="#cfcfcf" stroke-width="0.7"/>
<line x1="319.7" y1="57.7" x2="316.3" y2="56.6" stroke="#cfcfcf" stroke-width="0.7"/>
<line x1="319.7" y1="68.7" x2="316.3" y2="67.6" stroke="#cfcfcf" stroke-width="0.7"/>
<line x1="319.7" y1="79.7" x2="316.3" y2="78.6" stroke="#cfcfcf" stroke-width="0.7"/>
<line x1="393.7" y1="118.2" x2="390.5" y2="118.8" stroke="#cfcfcf" stroke-width="0.7"/>
<line x1="379.2" y1="110.6" x2="376.0" y2="111.2" stroke="#cfcfcf" stroke-width="0.7"/>
<line x1="364.7" y1="103.1" x2="361.5" y2="103.7" stroke="#cfcfcf" stroke-width="0.7"/>
<line x1="350.2" y1="95.5" x2="347.0" y2="96.1" stroke="#cfcfcf" stroke-width="0.7"/>
<line x1="335.7" y1="88.0" x2="332.5" y2="88.6" stroke="#cfcfcf" stroke-width="0.7"/>
<line x1="321.2" y1="80.4" x2="318.0" y2="81.0" stroke="#cfcfcf" stroke-width="0.7"/>
<line x1="402.2" y1="119.7" x2="404.4" y2="121.0" stroke="#cfcfcf" stroke-width="0.7"/>
<line x1="423.4" y1="116.2" x2="425.6" y2="117.5" stroke="#cfcfcf" stroke-width="0.7"/>
<line x1="444.4" y1="112.6" x2="446.6" y2="113.9" stroke="#cfcfcf" stroke-width="0.7"/>
<line x1="465.6" y1="109.1" x2="467.8" y2="110.4" stroke="#cfcfcf" stroke-width="0.7"/>
<line x1="486.7" y1="105.5" x2="488.9" y2="106.8" stroke="#cfcfcf" stroke-width="0.7"/>
<line x1="507.8" y1="102.0" x2="509.9" y2="103.3" stroke="#cfcfcf" stroke-width="0.7"/>
<line x1="528.9" y1="98.4" x2="531.1" y2="99.7" stroke="#cfcfcf" stroke-width="0.7"/>
<text x="314.5" y="23.9" font-size="9.2" text-anchor="end" >2</text>
<text x="314.5" y="34.9" font-size="9.2" text-anchor="end" >1.5</text>
<text x="314.5" y="45.9" font-size="9.2" text-anchor="end" >1</text>
<text x="314.5" y="56.9" font-size="9.2" text-anchor="end" >0.5</text>
<text x="314.5" y="67.9" font-size="9.2" text-anchor="end" >0</text>
<text x="314.5" y="78.9" font-size="9.2" text-anchor="end" >-0.5</text>
<text x="314.2" y="90.9" font-size="9.2" text-anchor="middle" >5</text>
<text x="329.2" y="98.5" font-size="9.2" text-anchor="middle" >4</text>
<text x="343.2" y="105.5" font-size="9.2" text-anchor="middle" >3</text>
<text x="357.8" y="112.9" font-size="9.2" text-anchor="middle" >2</text>
<text x="372.2" y="120.5" font-size="9.2" text-anchor="middle" >1</text>
<text x="387.2" y="127.3" font-size="9.2" text-anchor="middle" >0</text>
<text x="411.2" y="129.9" font-size="9.2" text-anchor="middle" >-3</text>
<text x="432.2" y="126.7" font-size="9.2" text-anchor="middle" >-2</text>
<text x="453.4" y="123.1" font-size="9.2" text-anchor="middle" >-1</text>
<text x="472.2" y="119.5" font-size="9.2" text-anchor="middle" >0</text>
<text x="493.2" y="115.9" font-size="9.2" text-anchor="middle" >1</text>
<text x="514.2" y="112.3" font-size="9.2" text-anchor="middle" >2</text>
<text x="535.2" y="108.5" font-size="9.2" text-anchor="middle" >3</text>
<text x="482.5" y="138.6" font-size="9.5" text-anchor="middle" textLength="56.6" lengthAdjust="spacingAndGlyphs">Distance (cm)</text>
<text x="330.9" y="135.0" font-size="9.5" text-anchor="middle" textLength="56.6" lengthAdjust="spacingAndGlyphs">Distance (cm)</text>
<text transform="translate(294.4,51.3) rotate(-90)" font-size="9.5" text-anchor="middle" textLength="96" lengthAdjust="spacingAndGlyphs">Wavelength Shift (nm)</text>
<path d="M397.9,106.4 L392.6,103.5 L387.7,100.6 L383.2,97.6 L379.3,94.6 L375.8,91.6 L372.9,88.7 L370.5,85.7 L368.7,82.9 L367.4,80.1 L366.7,77.4 L366.6,74.9 L367.1,72.4 L368.2,70.1 L369.8,68.0 L372.0,66.0 L374.8,64.3 L378.0,62.7 L381.8,61.3 L386.1,60.1 L390.9,59.2 L396.1,58.5 L401.6,58.0 L407.6,57.7 L413.9,57.7 L420.5,57.9 L427.3,58.3 L434.3,59.0 L441.5,59.9 L448.8,61.0 L456.2,62.4 L463.7,63.9 L471.1,65.7 L478.4,67.6 L485.7,69.7 L492.8,71.9 L499.7,74.4 L506.3,76.9 L512.7,79.6 L518.8,82.3 L524.5,85.2" fill="none" stroke="#e3e3e3" stroke-width="1"/>
<path d="M419.0,102.9 L414.7,100.6 L410.7,98.2 L407.0,95.8 L403.6,93.5 L400.6,91.1 L397.9,88.8 L395.7,86.5 L393.8,84.2 L392.4,82.1 L391.4,80.0 L390.8,78.0 L390.6,76.2 L390.9,74.4 L391.7,72.8 L392.8,71.3 L394.4,70.0 L396.4,68.8 L398.7,67.8 L401.5,67.0 L404.6,66.4 L408.1,65.9 L411.9,65.6 L416.1,65.5 L420.5,65.6 L425.1,65.9 L430.0,66.3 L435.0,67.0 L440.3,67.8 L445.6,68.8 L451.1,70.0 L456.6,71.3 L462.1,72.7 L467.6,74.4 L473.1,76.1 L478.5,78.0 L483.9,79.9 L489.0,82.0 L494.0,84.2 L498.8,86.4 L503.4,88.7" fill="none" stroke="#e3e3e3" stroke-width="1"/>
<path d="M381.6,61.6C380.5,62.3 376.7,64.1 375.0,66.0C373.3,67.9 372.0,70.7 371.6,73.0C371.2,75.3 371.3,77.3 372.4,80.0C373.5,82.7 375.4,86.2 378.0,89.0C380.6,91.8 383.8,94.4 388.0,97.0C392.2,99.6 400.5,103.2 403.0,104.4" fill="none" stroke="#3092e2" stroke-width="1.12" stroke-linecap="round" stroke-linejoin="round"/>
<path d="M385.6,63.0C384.7,63.7 381.5,65.2 380.0,67.0C378.5,68.8 376.9,71.5 376.6,74.0C376.3,76.5 376.6,79.2 378.0,82.0C379.4,84.8 382.2,88.3 385.0,91.0C387.8,93.7 391.2,96.2 395.0,98.4C398.8,100.6 405.5,103.1 407.6,104.0" fill="none" stroke="#e2455f" stroke-width="1.12" stroke-linecap="round" stroke-linejoin="round"/>
<path d="M389.0,64.0C388.2,64.7 385.3,66.2 384.0,68.0C382.7,69.8 381.6,72.7 381.4,75.0C381.2,77.3 381.6,79.3 383.0,82.0C384.4,84.7 387.2,88.3 390.0,91.0C392.8,93.7 396.4,95.9 400.0,98.0C403.6,100.1 409.7,102.5 411.6,103.4" fill="none" stroke="#3cc4f2" stroke-width="1.12" stroke-linecap="round" stroke-linejoin="round"/>
<path d="M393.0,65.0C392.2,65.7 389.6,67.3 388.4,69.0C387.2,70.7 386.1,72.8 386.0,75.0C385.9,77.2 386.5,79.3 388.0,82.0C389.5,84.7 392.2,88.3 395.0,91.0C397.8,93.7 401.6,96.1 405.0,98.0C408.4,99.9 413.8,101.8 415.6,102.6" fill="none" stroke="#74b73a" stroke-width="1.12" stroke-linecap="round" stroke-linejoin="round"/>
<path d="M408.0,57.4C409.3,57.5 416.4,57.9 420.0,58.0C423.6,58.1 436.7,58.2 440.0,58.0C443.3,57.8 448.0,56.5 450.0,56.6C452.0,56.7 456.2,57.8 458.0,58.6C459.8,59.4 463.6,62.7 466.0,64.0C468.4,65.3 476.9,68.8 480.0,70.0C483.1,71.2 490.8,73.9 494.0,75.0C497.2,76.1 505.9,78.5 509.0,79.5C512.1,80.5 520.2,83.9 521.6,84.4" fill="none" stroke="#3092e2" stroke-width="1.12" stroke-linecap="round" stroke-linejoin="round"/>
<path d="M409.0,57.4C410.5,57.4 423.2,57.1 426.0,57.0C428.8,56.9 438.0,56.5 440.0,56.0C442.0,55.5 446.7,52.8 448.0,52.0C449.3,51.2 453.1,47.9 454.0,47.4C454.9,46.9 457.3,46.6 458.0,47.0C458.7,47.4 461.3,51.0 462.0,52.0C462.7,53.0 464.7,56.8 466.0,58.0C467.3,59.2 473.8,63.8 476.0,65.0C478.2,66.2 487.5,69.8 490.0,71.0C492.5,72.2 501.5,76.8 504.0,78.0C506.5,79.2 515.8,83.8 517.0,84.4" fill="none" stroke="#ff7d50" stroke-width="1.12" stroke-linecap="round" stroke-linejoin="round"/>
<path d="M411.0,58.0C412.1,57.8 423.9,55.5 426.0,55.0C428.1,54.5 438.3,51.8 440.0,51.0C441.7,50.2 449.1,45.0 450.0,44.0C450.9,43.0 452.1,38.0 452.4,37.0C452.7,36.0 453.6,30.4 454.0,30.0C454.4,29.6 457.6,30.4 458.0,31.0C458.4,31.6 459.6,36.9 460.0,38.0C460.4,39.1 462.3,44.7 463.0,46.0C463.7,47.3 468.8,54.7 470.0,56.0C471.2,57.3 478.3,62.8 480.0,64.0C481.7,65.2 492.3,71.9 494.0,73.0C495.7,74.1 502.6,78.2 504.0,79.0C505.4,79.8 512.4,84.0 513.0,84.4" fill="none" stroke="#ffb62e" stroke-width="1.12" stroke-linecap="round" stroke-linejoin="round"/>
<path d="M414.0,63.0C415.0,63.1 424.0,63.9 426.0,64.0C428.0,64.1 436.4,64.3 438.0,64.0C439.6,63.7 444.1,60.5 445.0,60.0C445.9,59.5 448.3,58.8 449.0,58.0C449.7,57.2 452.3,51.4 453.0,51.0C453.7,50.6 456.4,52.2 457.0,53.0C457.6,53.8 459.1,58.8 460.0,60.0C460.9,61.2 466.3,66.8 468.0,68.0C469.7,69.2 477.7,73.8 480.0,75.0C482.3,76.2 493.6,81.0 496.0,82.0C498.4,83.0 507.9,86.0 509.0,86.4" fill="none" stroke="#aa52c6" stroke-width="1.12" stroke-linecap="round" stroke-linejoin="round"/>
<text x="412.4" y="155.0" font-size="11.6" text-anchor="middle" >(<tspan font-weight="bold">d</tspan>)</text>
<line x1="55.3" y1="174.2" x2="55.3" y2="288.2" stroke="#efefef" stroke-width="0.6"/>
<line x1="83.2" y1="174.2" x2="83.2" y2="288.2" stroke="#efefef" stroke-width="0.6"/>
<line x1="111.1" y1="174.2" x2="111.1" y2="288.2" stroke="#efefef" stroke-width="0.6"/>
<line x1="139.0" y1="174.2" x2="139.0" y2="288.2" stroke="#efefef" stroke-width="0.6"/>
<line x1="166.9" y1="174.2" x2="166.9" y2="288.2" stroke="#efefef" stroke-width="0.6"/>
<line x1="194.8" y1="174.2" x2="194.8" y2="288.2" stroke="#efefef" stroke-width="0.6"/>
<line x1="222.7" y1="174.2" x2="222.7" y2="288.2" stroke="#efefef" stroke-width="0.6"/>
<line x1="32.2" y1="284.3" x2="245.8" y2="284.3" stroke="#efefef" stroke-width="0.6"/>
<line x1="32.2" y1="262.9" x2="245.8" y2="262.9" stroke="#efefef" stroke-width="0.6"/>
<line x1="32.2" y1="241.5" x2="245.8" y2="241.5" stroke="#efefef" stroke-width="0.6"/>
<line x1="32.2" y1="220.1" x2="245.8" y2="220.1" stroke="#efefef" stroke-width="0.6"/>
<line x1="32.2" y1="198.7" x2="245.8" y2="198.7" stroke="#efefef" stroke-width="0.6"/>
<line x1="32.2" y1="177.3" x2="245.8" y2="177.3" stroke="#efefef" stroke-width="0.6"/>
<rect x="32.2" y="174.2" width="213.60000000000002" height="114.0" fill="none" stroke="#d4d4d4" stroke-width="0.7"/>
<line x1="55.3" y1="288.2" x2="55.3" y2="286.2" stroke="#d4d4d4" stroke-width="0.7"/>
<line x1="55.3" y1="174.2" x2="55.3" y2="176.2" stroke="#d4d4d4" stroke-width="0.7"/>
<text x="55.8" y="299.1" font-size="9.2" text-anchor="middle" >-3</text>
<line x1="83.2" y1="288.2" x2="83.2" y2="286.2" stroke="#d4d4d4" stroke-width="0.7"/>
<line x1="83.2" y1="174.2" x2="83.2" y2="176.2" stroke="#d4d4d4" stroke-width="0.7"/>
<text x="83.7" y="299.1" font-size="9.2" text-anchor="middle" >-2</text>
<line x1="111.1" y1="288.2" x2="111.1" y2="286.2" stroke="#d4d4d4" stroke-width="0.7"/>
<line x1="111.1" y1="174.2" x2="111.1" y2="176.2" stroke="#d4d4d4" stroke-width="0.7"/>
<text x="111.6" y="299.1" font-size="9.2" text-anchor="middle" >-1</text>
<line x1="139.0" y1="288.2" x2="139.0" y2="286.2" stroke="#d4d4d4" stroke-width="0.7"/>
<line x1="139.0" y1="174.2" x2="139.0" y2="176.2" stroke="#d4d4d4" stroke-width="0.7"/>
<text x="139.0" y="299.1" font-size="9.2" text-anchor="middle" >0</text>
<line x1="166.9" y1="288.2" x2="166.9" y2="286.2" stroke="#d4d4d4" stroke-width="0.7"/>
<line x1="166.9" y1="174.2" x2="166.9" y2="176.2" stroke="#d4d4d4" stroke-width="0.7"/>
<text x="166.9" y="299.1" font-size="9.2" text-anchor="middle" >1</text>
<line x1="194.8" y1="288.2" x2="194.8" y2="286.2" stroke="#d4d4d4" stroke-width="0.7"/>
<line x1="194.8" y1="174.2" x2="194.8" y2="176.2" stroke="#d4d4d4" stroke-width="0.7"/>
<text x="194.8" y="299.1" font-size="9.2" text-anchor="middle" >2</text>
<line x1="222.7" y1="288.2" x2="222.7" y2="286.2" stroke="#d4d4d4" stroke-width="0.7"/>
<line x1="222.7" y1="174.2" x2="222.7" y2="176.2" stroke="#d4d4d4" stroke-width="0.7"/>
<text x="222.7" y="299.1" font-size="9.2" text-anchor="middle" >3</text>
<line x1="32.2" y1="284.3" x2="34.2" y2="284.3" stroke="#d4d4d4" stroke-width="0.7"/>
<line x1="245.8" y1="284.3" x2="243.8" y2="284.3" stroke="#d4d4d4" stroke-width="0.7"/>
<text x="27.6" y="287.3" font-size="9.2" text-anchor="middle" >0</text>
<line x1="32.2" y1="262.9" x2="34.2" y2="262.9" stroke="#d4d4d4" stroke-width="0.7"/>
<line x1="245.8" y1="262.9" x2="243.8" y2="262.9" stroke="#d4d4d4" stroke-width="0.7"/>
<text x="27.6" y="265.9" font-size="9.2" text-anchor="middle" >1</text>
<line x1="32.2" y1="241.5" x2="34.2" y2="241.5" stroke="#d4d4d4" stroke-width="0.7"/>
<line x1="245.8" y1="241.5" x2="243.8" y2="241.5" stroke="#d4d4d4" stroke-width="0.7"/>
<text x="27.6" y="244.5" font-size="9.2" text-anchor="middle" >2</text>
<line x1="32.2" y1="220.1" x2="34.2" y2="220.1" stroke="#d4d4d4" stroke-width="0.7"/>
<line x1="245.8" y1="220.1" x2="243.8" y2="220.1" stroke="#d4d4d4" stroke-width="0.7"/>
<text x="27.6" y="223.1" font-size="9.2" text-anchor="middle" >3</text>
<line x1="32.2" y1="198.7" x2="34.2" y2="198.7" stroke="#d4d4d4" stroke-width="0.7"/>
<line x1="245.8" y1="198.7" x2="243.8" y2="198.7" stroke="#d4d4d4" stroke-width="0.7"/>
<text x="27.6" y="201.7" font-size="9.2" text-anchor="middle" >4</text>
<line x1="32.2" y1="177.3" x2="34.2" y2="177.3" stroke="#d4d4d4" stroke-width="0.7"/>
<line x1="245.8" y1="177.3" x2="243.8" y2="177.3" stroke="#d4d4d4" stroke-width="0.7"/>
<text x="27.6" y="180.3" font-size="9.2" text-anchor="middle" >5</text>
<text x="138.7" y="311.4" font-size="9.5" text-anchor="middle" textLength="56.6" lengthAdjust="spacingAndGlyphs">Distance (cm)</text>
<text transform="translate(21.1,230.4) rotate(-90)" font-size="9.5" text-anchor="middle" textLength="56.6" lengthAdjust="spacingAndGlyphs">Distance (cm)</text>
<text x="129.6" y="327.6" font-size="11.6" text-anchor="middle" >(<tspan font-weight="bold">e</tspan>)</text>
<clipPath id="ce"><path d="M55.30,284.30 L55.41,278.70 L55.76,273.12 L56.33,267.56 L57.13,262.05 L58.15,256.61 L59.40,251.24 L60.86,245.95 L62.54,240.78 L64.42,235.72 L66.51,230.80 L68.80,226.02 L71.29,221.41 L73.95,216.96 L76.80,212.70 L79.82,208.64 L82.99,204.78 L86.33,201.15 L89.80,197.74 L93.41,194.56 L97.15,191.64 L101.00,188.96 L104.96,186.55 L109.00,184.41 L113.14,182.54 L117.34,180.95 L121.60,179.64 L125.91,178.62 L130.25,177.89 L134.62,177.45 L139.00,177.30 L143.38,177.45 L147.75,177.89 L152.09,178.62 L156.40,179.64 L160.66,180.95 L164.86,182.54 L169.00,184.41 L173.04,186.55 L177.00,188.96 L180.85,191.64 L184.59,194.56 L188.20,197.74 L191.67,201.15 L195.01,204.78 L198.18,208.64 L201.20,212.70 L204.05,216.96 L206.71,221.41 L209.20,226.02 L211.49,230.80 L213.58,235.72 L215.46,240.78 L217.14,245.95 L218.60,251.24 L219.85,256.61 L220.87,262.05 L221.67,267.56 L222.24,273.12 L222.59,278.70 L222.70,284.30 L194.80,284.30 L194.72,279.82 L194.49,275.35 L194.11,270.91 L193.58,266.50 L192.90,262.15 L192.07,257.85 L191.09,253.62 L189.98,249.48 L188.72,245.44 L187.32,241.50 L185.80,237.68 L184.14,233.99 L182.36,230.43 L180.47,227.02 L178.46,223.77 L176.34,220.69 L174.12,217.78 L171.80,215.05 L169.39,212.51 L166.90,210.17 L164.33,208.03 L161.70,206.10 L159.00,204.39 L156.24,202.89 L153.44,201.62 L150.60,200.57 L147.73,199.75 L144.83,199.17 L141.92,198.82 L139.00,198.70 L136.08,198.82 L133.17,199.17 L130.27,199.75 L127.40,200.57 L124.56,201.62 L121.76,202.89 L119.00,204.39 L116.30,206.10 L113.67,208.03 L111.10,210.17 L108.61,212.51 L106.20,215.05 L103.88,217.78 L101.66,220.69 L99.54,223.77 L97.53,227.02 L95.64,230.43 L93.86,233.99 L92.20,237.68 L90.68,241.50 L89.28,245.44 L88.02,249.48 L86.91,253.62 L85.93,257.85 L85.10,262.15 L84.42,266.50 L83.89,270.91 L83.51,275.35 L83.28,279.82 L83.20,284.30Z"/></clipPath>
<g clip-path="url(#ce)" shape-rendering="crispEdges">
<path d="M55.30,284.30 L55.41,278.70 L55.76,273.12 L56.33,267.56 L57.13,262.05 L58.15,256.61 L59.40,251.24 L60.86,245.95 L62.54,240.78 L64.42,235.72 L66.51,230.80 L68.80,226.02 L71.29,221.41 L73.95,216.96 L76.80,212.70 L79.82,208.64 L82.99,204.78 L86.33,201.15 L89.80,197.74 L93.41,194.56 L97.15,191.64 L101.00,188.96 L104.96,186.55 L109.00,184.41 L113.14,182.54 L117.34,180.95 L121.60,179.64 L125.91,178.62 L130.25,177.89 L134.62,177.45 L139.00,177.30 L143.38,177.45 L147.75,177.89 L152.09,178.62 L156.40,179.64 L160.66,180.95 L164.86,182.54 L169.00,184.41 L173.04,186.55 L177.00,188.96 L180.85,191.64 L184.59,194.56 L188.20,197.74 L191.67,201.15 L195.01,204.78 L198.18,208.64 L201.20,212.70 L204.05,216.96 L206.71,221.41 L209.20,226.02 L211.49,230.80 L213.58,235.72 L215.46,240.78 L217.14,245.95 L218.60,251.24 L219.85,256.61 L220.87,262.05 L221.67,267.56 L222.24,273.12 L222.59,278.70 L222.70,284.30 L194.80,284.30 L194.72,279.82 L194.49,275.35 L194.11,270.91 L193.58,266.50 L192.90,262.15 L192.07,257.85 L191.09,253.62 L189.98,249.48 L188.72,245.44 L187.32,241.50 L185.80,237.68 L184.14,233.99 L182.36,230.43 L180.47,227.02 L178.46,223.77 L176.34,220.69 L174.12,217.78 L171.80,215.05 L169.39,212.51 L166.90,210.17 L164.33,208.03 L161.70,206.10 L159.00,204.39 L156.24,202.89 L153.44,201.62 L150.60,200.57 L147.73,199.75 L144.83,199.17 L141.92,198.82 L139.00,198.70 L136.08,198.82 L133.17,199.17 L130.27,199.75 L127.40,200.57 L124.56,201.62 L121.76,202.89 L119.00,204.39 L116.30,206.10 L113.67,208.03 L111.10,210.17 L108.61,212.51 L106.20,215.05 L103.88,217.78 L101.66,220.69 L99.54,223.77 L97.53,227.02 L95.64,230.43 L93.86,233.99 L92.20,237.68 L90.68,241.50 L89.28,245.44 L88.02,249.48 L86.91,253.62 L85.93,257.85 L85.10,262.15 L84.42,266.50 L83.89,270.91 L83.51,275.35 L83.28,279.82 L83.20,284.30Z" fill="#2d62fe"/>
<rect x="63.7" y="282.2" width="2.9" height="2.2" fill="#2967fe"/>
<rect x="66.5" y="282.2" width="2.9" height="2.2" fill="#256dfd"/>
<rect x="69.2" y="282.2" width="2.9" height="2.2" fill="#2967fe"/>
<rect x="206.0" y="282.2" width="2.9" height="2.2" fill="#2967fe"/>
<rect x="208.8" y="282.2" width="2.9" height="2.2" fill="#256dfd"/>
<rect x="211.5" y="282.2" width="2.9" height="2.2" fill="#2967fe"/>
<rect x="63.7" y="280.0" width="2.9" height="2.2" fill="#2967fe"/>
<rect x="66.5" y="280.0" width="2.9" height="2.2" fill="#256dfd"/>
<rect x="69.2" y="280.0" width="2.9" height="2.2" fill="#2967fe"/>
<rect x="206.0" y="280.0" width="2.9" height="2.2" fill="#2967fe"/>
<rect x="208.8" y="280.0" width="2.9" height="2.2" fill="#256dfd"/>
<rect x="211.5" y="280.0" width="2.9" height="2.2" fill="#2967fe"/>
<rect x="63.7" y="277.9" width="2.9" height="2.2" fill="#2967fe"/>
<rect x="66.5" y="277.9" width="2.9" height="2.2" fill="#256dfd"/>
<rect x="69.2" y="277.9" width="2.9" height="2.2" fill="#2967fe"/>
<rect x="206.0" y="277.9" width="2.9" height="2.2" fill="#2967fe"/>
<rect x="208.8" y="277.9" width="2.9" height="2.2" fill="#256dfd"/>
<rect x="211.5" y="277.9" width="2.9" height="2.2" fill="#2967fe"/>
<rect x="63.7" y="275.7" width="2.9" height="2.2" fill="#2967fe"/>
<rect x="66.5" y="275.7" width="2.9" height="2.2" fill="#256dfd"/>
<rect x="69.2" y="275.7" width="2.9" height="2.2" fill="#2967fe"/>
<rect x="206.0" y="275.7" width="2.9" height="2.2" fill="#2967fe"/>
<rect x="208.8" y="275.7" width="2.9" height="2.2" fill="#256dfd"/>
<rect x="211.5" y="275.7" width="2.9" height="2.2" fill="#2967fe"/>
<rect x="63.7" y="273.6" width="2.9" height="2.2" fill="#2967fe"/>
<rect x="66.5" y="273.6" width="5.7" height="2.2" fill="#256dfd"/>
<rect x="206.0" y="273.6" width="5.7" height="2.2" fill="#256dfd"/>
<rect x="211.5" y="273.6" width="2.9" height="2.2" fill="#2967fe"/>
<rect x="63.7" y="271.5" width="2.9" height="2.2" fill="#2967fe"/>
<rect x="66.5" y="271.5" width="5.7" height="2.2" fill="#256dfd"/>
<rect x="206.0" y="271.5" width="5.7" height="2.2" fill="#256dfd"/>
<rect x="211.5" y="271.5" width="2.9" height="2.2" fill="#2967fe"/>
<rect x="63.7" y="269.3" width="2.9" height="2.2" fill="#2967fe"/>
<rect x="66.5" y="269.3" width="5.7" height="2.2" fill="#256dfd"/>
<rect x="72.0" y="269.3" width="2.9" height="2.2" fill="#2967fe"/>
<rect x="203.2" y="269.3" width="2.9" height="2.2" fill="#2967fe"/>
<rect x="206.0" y="269.3" width="5.7" height="2.2" fill="#256dfd"/>
<rect x="211.5" y="269.3" width="2.9" height="2.2" fill="#2967fe"/>
<rect x="63.7" y="267.2" width="2.9" height="2.2" fill="#2967fe"/>
<rect x="66.5" y="267.2" width="5.7" height="2.2" fill="#256dfd"/>
<rect x="72.0" y="267.2" width="2.9" height="2.2" fill="#2967fe"/>
<rect x="203.2" y="267.2" width="2.9" height="2.2" fill="#2967fe"/>
<rect x="206.0" y="267.2" width="5.7" height="2.2" fill="#256dfd"/>
<rect x="211.5" y="267.2" width="2.9" height="2.2" fill="#2967fe"/>
<rect x="63.7" y="265.0" width="2.9" height="2.2" fill="#2967fe"/>
<rect x="66.5" y="265.0" width="5.7" height="2.2" fill="#256dfd"/>
<rect x="72.0" y="265.0" width="2.9" height="2.2" fill="#2967fe"/>
<rect x="203.2" y="265.0" width="2.9" height="2.2" fill="#2967fe"/>
<rect x="206.0" y="265.0" width="5.7" height="2.2" fill="#256dfd"/>
<rect x="211.5" y="265.0" width="2.9" height="2.2" fill="#2967fe"/>
<rect x="63.7" y="262.9" width="2.9" height="2.2" fill="#2967fe"/>
<rect x="66.5" y="262.9" width="5.7" height="2.2" fill="#256dfd"/>
<rect x="72.0" y="262.9" width="2.9" height="2.2" fill="#2967fe"/>
<rect x="203.2" y="262.9" width="2.9" height="2.2" fill="#2967fe"/>
<rect x="206.0" y="262.9" width="5.7" height="2.2" fill="#256dfd"/>
<rect x="211.5" y="262.9" width="2.9" height="2.2" fill="#2967fe"/>
<rect x="63.7" y="260.8" width="2.9" height="2.2" fill="#2967fe"/>
<rect x="66.5" y="260.8" width="2.9" height="2.2" fill="#256dfd"/>
<rect x="69.2" y="260.8" width="2.9" height="2.2" fill="#2273fb"/>
<rect x="72.0" y="260.8" width="2.9" height="2.2" fill="#2967fe"/>
<rect x="203.2" y="260.8" width="2.9" height="2.2" fill="#2967fe"/>
<rect x="206.0" y="260.8" width="2.9" height="2.2" fill="#2273fb"/>
<rect x="208.8" y="260.8" width="2.9" height="2.2" fill="#256dfd"/>
<rect x="211.5" y="260.8" width="2.9" height="2.2" fill="#2967fe"/>
<rect x="63.7" y="258.6" width="2.9" height="2.2" fill="#2967fe"/>
<rect x="66.5" y="258.6" width="2.9" height="2.2" fill="#256dfd"/>
<rect x="69.2" y="258.6" width="2.9" height="2.2" fill="#2273fb"/>
<rect x="72.0" y="258.6" width="2.9" height="2.2" fill="#2967fe"/>
<rect x="203.2" y="258.6" width="2.9" height="2.2" fill="#2967fe"/>
<rect x="206.0" y="258.6" width="2.9" height="2.2" fill="#2273fb"/>
<rect x="208.8" y="258.6" width="2.9" height="2.2" fill="#256dfd"/>
<rect x="211.5" y="258.6" width="2.9" height="2.2" fill="#2967fe"/>
<rect x="63.7" y="256.5" width="2.9" height="2.2" fill="#2967fe"/>
<rect x="66.5" y="256.5" width="2.9" height="2.2" fill="#256dfd"/>
<rect x="69.2" y="256.5" width="2.9" height="2.2" fill="#2273fb"/>
<rect x="72.0" y="256.5" width="2.9" height="2.2" fill="#256dfd"/>
<rect x="203.2" y="256.5" width="2.9" height="2.2" fill="#256dfd"/>
<rect x="206.0" y="256.5" width="2.9" height="2.2" fill="#2273fb"/>
<rect x="208.8" y="256.5" width="2.9" height="2.2" fill="#256dfd"/>
<rect x="211.5" y="256.5" width="2.9" height="2.2" fill="#2967fe"/>
<rect x="66.5" y="254.3" width="2.9" height="2.2" fill="#256dfd"/>
<rect x="69.2" y="254.3" width="2.9" height="2.2" fill="#2273fb"/>
<rect x="72.0" y="254.3" width="2.9" height="2.2" fill="#256dfd"/>
<rect x="203.2" y="254.3" width="2.9" height="2.2" fill="#256dfd"/>
<rect x="206.0" y="254.3" width="2.9" height="2.2" fill="#2273fb"/>
<rect x="208.8" y="254.3" width="2.9" height="2.2" fill="#256dfd"/>
<rect x="66.5" y="252.2" width="2.9" height="2.2" fill="#256dfd"/>
<rect x="69.2" y="252.2" width="2.9" height="2.2" fill="#2273fb"/>
<rect x="72.0" y="252.2" width="2.9" height="2.2" fill="#256dfd"/>
<rect x="74.8" y="252.2" width="2.9" height="2.2" fill="#2967fe"/>
<rect x="200.4" y="252.2" width="2.9" height="2.2" fill="#2967fe"/>
<rect x="203.2" y="252.2" width="2.9" height="2.2" fill="#256dfd"/>
<rect x="206.0" y="252.2" width="2.9" height="2.2" fill="#2273fb"/>
<rect x="208.8" y="252.2" width="2.9" height="2.2" fill="#256dfd"/>
<rect x="66.5" y="250.1" width="2.9" height="2.2" fill="#2967fe"/>
<rect x="69.2" y="250.1" width="5.7" height="2.2" fill="#2273fb"/>
<rect x="74.8" y="250.1" width="2.9" height="2.2" fill="#2967fe"/>
<rect x="200.4" y="250.1" width="2.9" height="2.2" fill="#2967fe"/>
<rect x="203.2" y="250.1" width="5.7" height="2.2" fill="#2273fb"/>
<rect x="208.8" y="250.1" width="2.9" height="2.2" fill="#2967fe"/>
<rect x="66.5" y="247.9" width="2.9" height="2.2" fill="#2967fe"/>
<rect x="69.2" y="247.9" width="5.7" height="2.2" fill="#2273fb"/>
<rect x="74.8" y="247.9" width="2.9" height="2.2" fill="#2967fe"/>
<rect x="200.4" y="247.9" width="2.9" height="2.2" fill="#2967fe"/>
<rect x="203.2" y="247.9" width="5.7" height="2.2" fill="#2273fb"/>
<rect x="208.8" y="247.9" width="2.9" height="2.2" fill="#2967fe"/>
<rect x="66.5" y="245.8" width="2.9" height="2.2" fill="#2967fe"/>
<rect x="69.2" y="245.8" width="5.7" height="2.2" fill="#2273fb"/>
<rect x="74.8" y="245.8" width="2.9" height="2.2" fill="#256dfd"/>
<rect x="200.4" y="245.8" width="2.9" height="2.2" fill="#256dfd"/>
<rect x="203.2" y="245.8" width="5.7" height="2.2" fill="#2273fb"/>
<rect x="208.8" y="245.8" width="2.9" height="2.2" fill="#2967fe"/>
<rect x="66.5" y="243.6" width="2.9" height="2.2" fill="#2967fe"/>
<rect x="69.2" y="243.6" width="2.9" height="2.2" fill="#256dfd"/>
<rect x="72.0" y="243.6" width="2.9" height="2.2" fill="#2279f8"/>
<rect x="74.8" y="243.6" width="2.9" height="2.2" fill="#256dfd"/>
<rect x="77.6" y="243.6" width="2.9" height="2.2" fill="#2967fe"/>
<rect x="197.6" y="243.6" width="2.9" height="2.2" fill="#2967fe"/>
<rect x="200.4" y="243.6" width="2.9" height="2.2" fill="#256dfd"/>
<rect x="203.2" y="243.6" width="2.9" height="2.2" fill="#2279f8"/>
<rect x="206.0" y="243.6" width="2.9" height="2.2" fill="#256dfd"/>
<rect x="208.8" y="243.6" width="2.9" height="2.2" fill="#2967fe"/>
<rect x="69.2" y="241.5" width="2.9" height="2.2" fill="#256dfd"/>
<rect x="72.0" y="241.5" width="2.9" height="2.2" fill="#2279f8"/>
<rect x="74.8" y="241.5" width="2.9" height="2.2" fill="#2273fb"/>
<rect x="77.6" y="241.5" width="2.9" height="2.2" fill="#2967fe"/>
<rect x="197.6" y="241.5" width="2.9" height="2.2" fill="#2967fe"/>
<rect x="200.4" y="241.5" width="2.9" height="2.2" fill="#2273fb"/>
<rect x="203.2" y="241.5" width="2.9" height="2.2" fill="#2279f8"/>
<rect x="206.0" y="241.5" width="2.9" height="2.2" fill="#256dfd"/>
<rect x="69.2" y="239.4" width="2.9" height="2.2" fill="#256dfd"/>
<rect x="72.0" y="239.4" width="5.7" height="2.2" fill="#2273fb"/>
<rect x="77.6" y="239.4" width="2.9" height="2.2" fill="#2967fe"/>
<rect x="197.6" y="239.4" width="2.9" height="2.2" fill="#2967fe"/>
<rect x="200.4" y="239.4" width="5.7" height="2.2" fill="#2273fb"/>
<rect x="206.0" y="239.4" width="2.9" height="2.2" fill="#256dfd"/>
<rect x="69.2" y="237.2" width="2.9" height="2.2" fill="#2967fe"/>
<rect x="72.0" y="237.2" width="2.9" height="2.2" fill="#2273fb"/>
<rect x="74.8" y="237.2" width="2.9" height="2.2" fill="#2279f8"/>
<rect x="77.6" y="237.2" width="2.9" height="2.2" fill="#256dfd"/>
<rect x="197.6" y="237.2" width="2.9" height="2.2" fill="#256dfd"/>
<rect x="200.4" y="237.2" width="2.9" height="2.2" fill="#2279f8"/>
<rect x="203.2" y="237.2" width="2.9" height="2.2" fill="#2273fb"/>
<rect x="206.0" y="237.2" width="2.9" height="2.2" fill="#2967fe"/>
<rect x="69.2" y="235.1" width="2.9" height="2.2" fill="#2967fe"/>
<rect x="72.0" y="235.1" width="2.9" height="2.2" fill="#2273fb"/>
<rect x="74.8" y="235.1" width="2.9" height="2.2" fill="#2279f8"/>
<rect x="77.6" y="235.1" width="2.9" height="2.2" fill="#2273fb"/>
<rect x="80.4" y="235.1" width="2.9" height="2.2" fill="#2967fe"/>
<rect x="194.8" y="235.1" width="2.9" height="2.2" fill="#2967fe"/>
<rect x="197.6" y="235.1" width="2.9" height="2.2" fill="#2273fb"/>
<rect x="200.4" y="235.1" width="2.9" height="2.2" fill="#2279f8"/>
<rect x="203.2" y="235.1" width="2.9" height="2.2" fill="#2273fb"/>
<rect x="206.0" y="235.1" width="2.9" height="2.2" fill="#2967fe"/>
<rect x="72.0" y="232.9" width="2.9" height="2.2" fill="#256dfd"/>
<rect x="74.8" y="232.9" width="2.9" height="2.2" fill="#2279f8"/>
<rect x="77.6" y="232.9" width="2.9" height="2.2" fill="#2273fb"/>
<rect x="80.4" y="232.9" width="2.9" height="2.2" fill="#2967fe"/>
<rect x="194.8" y="232.9" width="2.9" height="2.2" fill="#2967fe"/>
<rect x="197.6" y="232.9" width="2.9" height="2.2" fill="#2273fb"/>
<rect x="200.4" y="232.9" width="2.9" height="2.2" fill="#2279f8"/>
<rect x="203.2" y="232.9" width="2.9" height="2.2" fill="#256dfd"/>
<rect x="72.0" y="230.8" width="2.9" height="2.2" fill="#2967fe"/>
<rect x="74.8" y="230.8" width="2.9" height="2.2" fill="#2273fb"/>
<rect x="77.6" y="230.8" width="2.9" height="2.2" fill="#2279f8"/>
<rect x="80.4" y="230.8" width="2.9" height="2.2" fill="#256dfd"/>
<rect x="194.8" y="230.8" width="2.9" height="2.2" fill="#256dfd"/>
<rect x="197.6" y="230.8" width="2.9" height="2.2" fill="#2279f8"/>
<rect x="200.4" y="230.8" width="2.9" height="2.2" fill="#2273fb"/>
<rect x="203.2" y="230.8" width="2.9" height="2.2" fill="#2967fe"/>
<rect x="72.0" y="228.7" width="2.9" height="2.2" fill="#2967fe"/>
<rect x="74.8" y="228.7" width="2.9" height="2.2" fill="#2273fb"/>
<rect x="77.6" y="228.7" width="2.9" height="2.2" fill="#2279f8"/>
<rect x="80.4" y="228.7" width="2.9" height="2.2" fill="#2273fb"/>
<rect x="83.2" y="228.7" width="2.9" height="2.2" fill="#2967fe"/>
<rect x="192.0" y="228.7" width="2.9" height="2.2" fill="#2967fe"/>
<rect x="194.8" y="228.7" width="2.9" height="2.2" fill="#2273fb"/>
<rect x="197.6" y="228.7" width="2.9" height="2.2" fill="#2279f8"/>
<rect x="200.4" y="228.7" width="2.9" height="2.2" fill="#2273fb"/>
<rect x="203.2" y="228.7" width="2.9" height="2.2" fill="#2967fe"/>
<rect x="74.8" y="226.5" width="2.9" height="2.2" fill="#256dfd"/>
<rect x="77.6" y="226.5" width="5.7" height="2.2" fill="#2279f8"/>
<rect x="83.2" y="226.5" width="2.9" height="2.2" fill="#256dfd"/>
<rect x="192.0" y="226.5" width="2.9" height="2.2" fill="#256dfd"/>
<rect x="194.8" y="226.5" width="5.7" height="2.2" fill="#2279f8"/>
<rect x="200.4" y="226.5" width="2.9" height="2.2" fill="#256dfd"/>
<rect x="74.8" y="224.4" width="2.9" height="2.2" fill="#2967fe"/>
<rect x="77.6" y="224.4" width="5.7" height="2.2" fill="#2279f8"/>
<rect x="83.2" y="224.4" width="2.9" height="2.2" fill="#2273fb"/>
<rect x="88.8" y="224.4" width="5.7" height="2.2" fill="#2f5dfd"/>
<rect x="183.6" y="224.4" width="5.7" height="2.2" fill="#2f5dfd"/>
<rect x="192.0" y="224.4" width="2.9" height="2.2" fill="#2273fb"/>
<rect x="194.8" y="224.4" width="5.7" height="2.2" fill="#2279f8"/>
<rect x="200.4" y="224.4" width="2.9" height="2.2" fill="#2967fe"/>
<rect x="74.8" y="222.2" width="2.9" height="2.2" fill="#2967fe"/>
<rect x="77.6" y="222.2" width="2.9" height="2.2" fill="#2273fb"/>
<rect x="80.4" y="222.2" width="2.9" height="2.2" fill="#227ff4"/>
<rect x="83.2" y="222.2" width="2.9" height="2.2" fill="#2279f8"/>
<rect x="86.0" y="222.2" width="2.9" height="2.2" fill="#2967fe"/>
<rect x="88.8" y="222.2" width="5.7" height="2.2" fill="#2f5dfd"/>
<rect x="183.6" y="222.2" width="5.7" height="2.2" fill="#2f5dfd"/>
<rect x="189.2" y="222.2" width="2.9" height="2.2" fill="#2967fe"/>
<rect x="192.0" y="222.2" width="2.9" height="2.2" fill="#2279f8"/>
<rect x="194.8" y="222.2" width="2.9" height="2.2" fill="#227ff4"/>
<rect x="197.6" y="222.2" width="2.9" height="2.2" fill="#2273fb"/>
<rect x="200.4" y="222.2" width="2.9" height="2.2" fill="#2967fe"/>
<rect x="77.6" y="220.1" width="2.9" height="2.2" fill="#256dfd"/>
<rect x="80.4" y="220.1" width="2.9" height="2.2" fill="#2279f8"/>
<rect x="83.2" y="220.1" width="2.9" height="2.2" fill="#227ff4"/>
<rect x="86.0" y="220.1" width="2.9" height="2.2" fill="#256dfd"/>
<rect x="91.6" y="220.1" width="5.7" height="2.2" fill="#2f5dfd"/>
<rect x="180.8" y="220.1" width="5.7" height="2.2" fill="#2f5dfd"/>
<rect x="189.2" y="220.1" width="2.9" height="2.2" fill="#256dfd"/>
<rect x="192.0" y="220.1" width="2.9" height="2.2" fill="#227ff4"/>
<rect x="194.8" y="220.1" width="2.9" height="2.2" fill="#2279f8"/>
<rect x="197.6" y="220.1" width="2.9" height="2.2" fill="#256dfd"/>
<rect x="77.6" y="218.0" width="2.9" height="2.2" fill="#2967fe"/>
<rect x="80.4" y="218.0" width="2.9" height="2.2" fill="#2273fb"/>
<rect x="83.2" y="218.0" width="2.9" height="2.2" fill="#227ff4"/>
<rect x="86.0" y="218.0" width="2.9" height="2.2" fill="#2279f8"/>
<rect x="88.8" y="218.0" width="2.9" height="2.2" fill="#2967fe"/>
<rect x="91.6" y="218.0" width="8.5" height="2.2" fill="#2f5dfd"/>
<rect x="178.1" y="218.0" width="8.5" height="2.2" fill="#2f5dfd"/>
<rect x="186.4" y="218.0" width="2.9" height="2.2" fill="#2967fe"/>
<rect x="189.2" y="218.0" width="2.9" height="2.2" fill="#2279f8"/>
<rect x="192.0" y="218.0" width="2.9" height="2.2" fill="#227ff4"/>
<rect x="194.8" y="218.0" width="2.9" height="2.2" fill="#2273fb"/>
<rect x="197.6" y="218.0" width="2.9" height="2.2" fill="#2967fe"/>
<rect x="80.4" y="215.8" width="2.9" height="2.2" fill="#256dfd"/>
<rect x="83.2" y="215.8" width="2.9" height="2.2" fill="#2279f8"/>
<rect x="86.0" y="215.8" width="2.9" height="2.2" fill="#227ff4"/>
<rect x="88.8" y="215.8" width="2.9" height="2.2" fill="#2273fb"/>
<rect x="94.4" y="215.8" width="5.7" height="2.2" fill="#2f5dfd"/>
<rect x="178.1" y="215.8" width="5.7" height="2.2" fill="#2f5dfd"/>
<rect x="186.4" y="215.8" width="2.9" height="2.2" fill="#2273fb"/>
<rect x="189.2" y="215.8" width="2.9" height="2.2" fill="#227ff4"/>
<rect x="192.0" y="215.8" width="2.9" height="2.2" fill="#2279f8"/>
<rect x="194.8" y="215.8" width="2.9" height="2.2" fill="#256dfd"/>
<rect x="80.4" y="213.7" width="2.9" height="2.2" fill="#2967fe"/>
<rect x="83.2" y="213.7" width="2.9" height="2.2" fill="#2273fb"/>
<rect x="86.0" y="213.7" width="2.9" height="2.2" fill="#227ff4"/>
<rect x="88.8" y="213.7" width="2.9" height="2.2" fill="#2279f8"/>
<rect x="91.6" y="213.7" width="2.9" height="2.2" fill="#2967fe"/>
<rect x="94.4" y="213.7" width="8.5" height="2.2" fill="#2f5dfd"/>
<rect x="175.3" y="213.7" width="8.5" height="2.2" fill="#2f5dfd"/>
<rect x="183.6" y="213.7" width="2.9" height="2.2" fill="#2967fe"/>
<rect x="186.4" y="213.7" width="2.9" height="2.2" fill="#2279f8"/>
<rect x="189.2" y="213.7" width="2.9" height="2.2" fill="#227ff4"/>
<rect x="192.0" y="213.7" width="2.9" height="2.2" fill="#2273fb"/>
<rect x="194.8" y="213.7" width="2.9" height="2.2" fill="#2967fe"/>
<rect x="83.2" y="211.5" width="2.9" height="2.2" fill="#256dfd"/>
<rect x="86.0" y="211.5" width="5.7" height="2.2" fill="#227ff4"/>
<rect x="91.6" y="211.5" width="2.9" height="2.2" fill="#2273fb"/>
<rect x="97.2" y="211.5" width="2.9" height="2.2" fill="#3157fc"/>
<rect x="99.9" y="211.5" width="5.7" height="2.2" fill="#2f5dfd"/>
<rect x="172.5" y="211.5" width="5.7" height="2.2" fill="#2f5dfd"/>
<rect x="178.1" y="211.5" width="2.9" height="2.2" fill="#3157fc"/>
<rect x="183.6" y="211.5" width="2.9" height="2.2" fill="#2273fb"/>
<rect x="186.4" y="211.5" width="5.7" height="2.2" fill="#227ff4"/>
<rect x="192.0" y="211.5" width="2.9" height="2.2" fill="#256dfd"/>
<rect x="83.2" y="209.4" width="2.9" height="2.2" fill="#2967fe"/>
<rect x="86.0" y="209.4" width="2.9" height="2.2" fill="#2273fb"/>
<rect x="88.8" y="209.4" width="5.7" height="2.2" fill="#227ff4"/>
<rect x="94.4" y="209.4" width="2.9" height="2.2" fill="#256dfd"/>
<rect x="97.2" y="209.4" width="2.9" height="2.2" fill="#2f5dfd"/>
<rect x="99.9" y="209.4" width="2.9" height="2.2" fill="#3157fc"/>
<rect x="102.7" y="209.4" width="5.7" height="2.2" fill="#2f5dfd"/>
<rect x="169.7" y="209.4" width="5.7" height="2.2" fill="#2f5dfd"/>
<rect x="175.3" y="209.4" width="2.9" height="2.2" fill="#3157fc"/>
<rect x="178.1" y="209.4" width="2.9" height="2.2" fill="#2f5dfd"/>
<rect x="180.8" y="209.4" width="2.9" height="2.2" fill="#256dfd"/>
<rect x="183.6" y="209.4" width="5.7" height="2.2" fill="#227ff4"/>
<rect x="189.2" y="209.4" width="2.9" height="2.2" fill="#2273fb"/>
<rect x="192.0" y="209.4" width="2.9" height="2.2" fill="#2967fe"/>
<rect x="86.0" y="207.3" width="2.9" height="2.2" fill="#256dfd"/>
<rect x="88.8" y="207.3" width="2.9" height="2.2" fill="#2279f8"/>
<rect x="91.6" y="207.3" width="2.9" height="2.2" fill="#2285f0"/>
<rect x="94.4" y="207.3" width="2.9" height="2.2" fill="#2279f8"/>
<rect x="97.2" y="207.3" width="2.9" height="2.2" fill="#2967fe"/>
<rect x="99.9" y="207.3" width="5.7" height="2.2" fill="#3157fc"/>
<rect x="105.5" y="207.3" width="2.9" height="2.2" fill="#2f5dfd"/>
<rect x="169.7" y="207.3" width="2.9" height="2.2" fill="#2f5dfd"/>
<rect x="172.5" y="207.3" width="5.7" height="2.2" fill="#3157fc"/>
<rect x="178.1" y="207.3" width="2.9" height="2.2" fill="#2967fe"/>
<rect x="180.8" y="207.3" width="2.9" height="2.2" fill="#2279f8"/>
<rect x="183.6" y="207.3" width="2.9" height="2.2" fill="#2285f0"/>
<rect x="186.4" y="207.3" width="2.9" height="2.2" fill="#2279f8"/>
<rect x="189.2" y="207.3" width="2.9" height="2.2" fill="#256dfd"/>
<rect x="86.0" y="205.1" width="2.9" height="2.2" fill="#2967fe"/>
<rect x="88.8" y="205.1" width="2.9" height="2.2" fill="#2273fb"/>
<rect x="91.6" y="205.1" width="5.7" height="2.2" fill="#227ff4"/>
<rect x="97.2" y="205.1" width="2.9" height="2.2" fill="#2273fb"/>
<rect x="102.7" y="205.1" width="2.9" height="2.2" fill="#3252f9"/>
<rect x="105.5" y="205.1" width="2.9" height="2.2" fill="#3157fc"/>
<rect x="108.3" y="205.1" width="2.9" height="2.2" fill="#2f5dfd"/>
<rect x="166.9" y="205.1" width="2.9" height="2.2" fill="#2f5dfd"/>
<rect x="169.7" y="205.1" width="2.9" height="2.2" fill="#3157fc"/>
<rect x="172.5" y="205.1" width="2.9" height="2.2" fill="#3252f9"/>
<rect x="178.1" y="205.1" width="2.9" height="2.2" fill="#2273fb"/>
<rect x="180.8" y="205.1" width="5.7" height="2.2" fill="#227ff4"/>
<rect x="186.4" y="205.1" width="2.9" height="2.2" fill="#2273fb"/>
<rect x="189.2" y="205.1" width="2.9" height="2.2" fill="#2967fe"/>
<rect x="88.8" y="203.0" width="2.9" height="2.2" fill="#2967fe"/>
<rect x="91.6" y="203.0" width="2.9" height="2.2" fill="#2279f8"/>
<rect x="94.4" y="203.0" width="2.9" height="2.2" fill="#2285f0"/>
<rect x="97.2" y="203.0" width="2.9" height="2.2" fill="#227ff4"/>
<rect x="99.9" y="203.0" width="2.9" height="2.2" fill="#2273fb"/>
<rect x="105.5" y="203.0" width="2.9" height="2.2" fill="#3252f9"/>
<rect x="108.3" y="203.0" width="2.9" height="2.2" fill="#3157fc"/>
<rect x="111.1" y="203.0" width="5.7" height="2.2" fill="#2f5dfd"/>
<rect x="161.3" y="203.0" width="5.7" height="2.2" fill="#2f5dfd"/>
<rect x="166.9" y="203.0" width="2.9" height="2.2" fill="#3157fc"/>
<rect x="169.7" y="203.0" width="2.9" height="2.2" fill="#3252f9"/>
<rect x="175.3" y="203.0" width="2.9" height="2.2" fill="#2273fb"/>
<rect x="178.1" y="203.0" width="2.9" height="2.2" fill="#227ff4"/>
<rect x="180.8" y="203.0" width="2.9" height="2.2" fill="#2285f0"/>
<rect x="183.6" y="203.0" width="2.9" height="2.2" fill="#2279f8"/>
<rect x="186.4" y="203.0" width="2.9" height="2.2" fill="#2967fe"/>
<rect x="91.6" y="200.8" width="2.9" height="2.2" fill="#256dfd"/>
<rect x="94.4" y="200.8" width="2.9" height="2.2" fill="#2279f8"/>
<rect x="97.2" y="200.8" width="2.9" height="2.2" fill="#2285f0"/>
<rect x="99.9" y="200.8" width="2.9" height="2.2" fill="#227ff4"/>
<rect x="102.7" y="200.8" width="2.9" height="2.2" fill="#256dfd"/>
<rect x="105.5" y="200.8" width="2.9" height="2.2" fill="#2f5dfd"/>
<rect x="108.3" y="200.8" width="2.9" height="2.2" fill="#3252f9"/>
<rect x="111.1" y="200.8" width="2.9" height="2.2" fill="#3157fc"/>
<rect x="113.9" y="200.8" width="5.7" height="2.2" fill="#2f5dfd"/>
<rect x="158.5" y="200.8" width="5.7" height="2.2" fill="#2f5dfd"/>
<rect x="164.1" y="200.8" width="2.9" height="2.2" fill="#3157fc"/>
<rect x="166.9" y="200.8" width="2.9" height="2.2" fill="#3252f9"/>
<rect x="169.7" y="200.8" width="2.9" height="2.2" fill="#2f5dfd"/>
<rect x="172.5" y="200.8" width="2.9" height="2.2" fill="#256dfd"/>
<rect x="175.3" y="200.8" width="2.9" height="2.2" fill="#227ff4"/>
<rect x="178.1" y="200.8" width="2.9" height="2.2" fill="#2285f0"/>
<rect x="180.8" y="200.8" width="2.9" height="2.2" fill="#2279f8"/>
<rect x="183.6" y="200.8" width="2.9" height="2.2" fill="#256dfd"/>
<rect x="94.4" y="198.7" width="2.9" height="2.2" fill="#256dfd"/>
<rect x="97.2" y="198.7" width="2.9" height="2.2" fill="#227ff4"/>
<rect x="99.9" y="198.7" width="2.9" height="2.2" fill="#2285f0"/>
<rect x="102.7" y="198.7" width="2.9" height="2.2" fill="#227ff4"/>
<rect x="105.5" y="198.7" width="2.9" height="2.2" fill="#256dfd"/>
<rect x="108.3" y="198.7" width="2.9" height="2.2" fill="#2f5dfd"/>
<rect x="111.1" y="198.7" width="2.9" height="2.2" fill="#324df6"/>
<rect x="113.9" y="198.7" width="2.9" height="2.2" fill="#3252f9"/>
<rect x="116.7" y="198.7" width="8.5" height="2.2" fill="#2f5dfd"/>
<rect x="152.9" y="198.7" width="8.5" height="2.2" fill="#2f5dfd"/>
<rect x="161.3" y="198.7" width="2.9" height="2.2" fill="#3252f9"/>
<rect x="164.1" y="198.7" width="2.9" height="2.2" fill="#324df6"/>
<rect x="166.9" y="198.7" width="2.9" height="2.2" fill="#2f5dfd"/>
<rect x="169.7" y="198.7" width="2.9" height="2.2" fill="#256dfd"/>
<rect x="172.5" y="198.7" width="2.9" height="2.2" fill="#227ff4"/>
<rect x="175.3" y="198.7" width="2.9" height="2.2" fill="#2285f0"/>
<rect x="178.1" y="198.7" width="2.9" height="2.2" fill="#227ff4"/>
<rect x="180.8" y="198.7" width="2.9" height="2.2" fill="#256dfd"/>
<rect x="94.4" y="196.6" width="2.9" height="2.2" fill="#2967fe"/>
<rect x="97.2" y="196.6" width="2.9" height="2.2" fill="#2273fb"/>
<rect x="99.9" y="196.6" width="2.9" height="2.2" fill="#227ff4"/>
<rect x="102.7" y="196.6" width="2.9" height="2.2" fill="#2285f0"/>
<rect x="105.5" y="196.6" width="2.9" height="2.2" fill="#227ff4"/>
<rect x="108.3" y="196.6" width="2.9" height="2.2" fill="#2273fb"/>
<rect x="113.9" y="196.6" width="2.9" height="2.2" fill="#3252f9"/>
<rect x="116.7" y="196.6" width="2.9" height="2.2" fill="#324df6"/>
<rect x="119.5" y="196.6" width="2.9" height="2.2" fill="#3157fc"/>
<rect x="122.3" y="196.6" width="8.5" height="2.2" fill="#2f5dfd"/>
<rect x="147.4" y="196.6" width="8.5" height="2.2" fill="#2f5dfd"/>
<rect x="155.7" y="196.6" width="2.9" height="2.2" fill="#3157fc"/>
<rect x="158.5" y="196.6" width="2.9" height="2.2" fill="#324df6"/>
<rect x="161.3" y="196.6" width="2.9" height="2.2" fill="#3252f9"/>
<rect x="166.9" y="196.6" width="2.9" height="2.2" fill="#2273fb"/>
<rect x="169.7" y="196.6" width="2.9" height="2.2" fill="#227ff4"/>
<rect x="172.5" y="196.6" width="2.9" height="2.2" fill="#2285f0"/>
<rect x="175.3" y="196.6" width="2.9" height="2.2" fill="#227ff4"/>
<rect x="178.1" y="196.6" width="2.9" height="2.2" fill="#2273fb"/>
<rect x="180.8" y="196.6" width="2.9" height="2.2" fill="#2967fe"/>
<rect x="97.2" y="194.4" width="2.9" height="2.2" fill="#2967fe"/>
<rect x="99.9" y="194.4" width="2.9" height="2.2" fill="#2273fb"/>
<rect x="102.7" y="194.4" width="2.9" height="2.2" fill="#2285f0"/>
<rect x="105.5" y="194.4" width="2.9" height="2.2" fill="#208bec"/>
<rect x="108.3" y="194.4" width="2.9" height="2.2" fill="#2285f0"/>
<rect x="111.1" y="194.4" width="2.9" height="2.2" fill="#2279f8"/>
<rect x="113.9" y="194.4" width="2.9" height="2.2" fill="#2967fe"/>
<rect x="116.7" y="194.4" width="2.9" height="2.2" fill="#3157fc"/>
<rect x="119.5" y="194.4" width="2.9" height="2.2" fill="#3248f2"/>
<rect x="122.3" y="194.4" width="2.9" height="2.2" fill="#324df6"/>
<rect x="125.0" y="194.4" width="2.9" height="2.2" fill="#3157fc"/>
<rect x="127.8" y="194.4" width="22.4" height="2.2" fill="#2f5dfd"/>
<rect x="150.2" y="194.4" width="2.9" height="2.2" fill="#3157fc"/>
<rect x="152.9" y="194.4" width="2.9" height="2.2" fill="#324df6"/>
<rect x="155.7" y="194.4" width="2.9" height="2.2" fill="#3248f2"/>
<rect x="158.5" y="194.4" width="2.9" height="2.2" fill="#3157fc"/>
<rect x="161.3" y="194.4" width="2.9" height="2.2" fill="#2967fe"/>
<rect x="164.1" y="194.4" width="2.9" height="2.2" fill="#2279f8"/>
<rect x="166.9" y="194.4" width="2.9" height="2.2" fill="#2285f0"/>
<rect x="169.7" y="194.4" width="2.9" height="2.2" fill="#208bec"/>
<rect x="172.5" y="194.4" width="2.9" height="2.2" fill="#2285f0"/>
<rect x="175.3" y="194.4" width="2.9" height="2.2" fill="#2273fb"/>
<rect x="178.1" y="194.4" width="2.9" height="2.2" fill="#2967fe"/>
<rect x="99.9" y="192.3" width="2.9" height="2.2" fill="#2967fe"/>
<rect x="102.7" y="192.3" width="2.9" height="2.2" fill="#2273fb"/>
<rect x="105.5" y="192.3" width="2.9" height="2.2" fill="#2285f0"/>
<rect x="108.3" y="192.3" width="5.7" height="2.2" fill="#208bec"/>
<rect x="113.9" y="192.3" width="2.9" height="2.2" fill="#227ff4"/>
<rect x="116.7" y="192.3" width="2.9" height="2.2" fill="#2273fb"/>
<rect x="122.3" y="192.3" width="2.9" height="2.2" fill="#3252f9"/>
<rect x="125.0" y="192.3" width="5.7" height="2.2" fill="#3248f2"/>
<rect x="130.6" y="192.3" width="5.7" height="2.2" fill="#324df6"/>
<rect x="136.2" y="192.3" width="5.7" height="2.2" fill="#3252f9"/>
<rect x="141.8" y="192.3" width="5.7" height="2.2" fill="#324df6"/>
<rect x="147.4" y="192.3" width="5.7" height="2.2" fill="#3248f2"/>
<rect x="152.9" y="192.3" width="2.9" height="2.2" fill="#3252f9"/>
<rect x="158.5" y="192.3" width="2.9" height="2.2" fill="#2273fb"/>
<rect x="161.3" y="192.3" width="2.9" height="2.2" fill="#227ff4"/>
<rect x="164.1" y="192.3" width="5.7" height="2.2" fill="#208bec"/>
<rect x="169.7" y="192.3" width="2.9" height="2.2" fill="#2285f0"/>
<rect x="172.5" y="192.3" width="2.9" height="2.2" fill="#2273fb"/>
<rect x="175.3" y="192.3" width="2.9" height="2.2" fill="#2967fe"/>
<rect x="102.7" y="190.1" width="2.9" height="2.2" fill="#2967fe"/>
<rect x="105.5" y="190.1" width="2.9" height="2.2" fill="#2273fb"/>
<rect x="108.3" y="190.1" width="2.9" height="2.2" fill="#227ff4"/>
<rect x="111.1" y="190.1" width="5.7" height="2.2" fill="#1f90e9"/>
<rect x="116.7" y="190.1" width="2.9" height="2.2" fill="#208bec"/>
<rect x="119.5" y="190.1" width="2.9" height="2.2" fill="#227ff4"/>
<rect x="122.3" y="190.1" width="2.9" height="2.2" fill="#2273fb"/>
<rect x="125.0" y="190.1" width="2.9" height="2.2" fill="#256dfd"/>
<rect x="127.8" y="190.1" width="2.9" height="2.2" fill="#2f5dfd"/>
<rect x="130.6" y="190.1" width="2.9" height="2.2" fill="#3252f9"/>
<rect x="133.4" y="190.1" width="2.9" height="2.2" fill="#324df6"/>
<rect x="136.2" y="190.1" width="5.7" height="2.2" fill="#3248f2"/>
<rect x="141.8" y="190.1" width="2.9" height="2.2" fill="#324df6"/>
<rect x="144.6" y="190.1" width="2.9" height="2.2" fill="#3252f9"/>
<rect x="147.4" y="190.1" width="2.9" height="2.2" fill="#2f5dfd"/>
<rect x="150.2" y="190.1" width="2.9" height="2.2" fill="#256dfd"/>
<rect x="152.9" y="190.1" width="2.9" height="2.2" fill="#2273fb"/>
<rect x="155.7" y="190.1" width="2.9" height="2.2" fill="#227ff4"/>
<rect x="158.5" y="190.1" width="2.9" height="2.2" fill="#208bec"/>
<rect x="161.3" y="190.1" width="5.7" height="2.2" fill="#1f90e9"/>
<rect x="166.9" y="190.1" width="2.9" height="2.2" fill="#227ff4"/>
<rect x="169.7" y="190.1" width="2.9" height="2.2" fill="#2273fb"/>
<rect x="172.5" y="190.1" width="2.9" height="2.2" fill="#2967fe"/>
<rect x="105.5" y="188.0" width="2.9" height="2.2" fill="#2967fe"/>
<rect x="108.3" y="188.0" width="2.9" height="2.2" fill="#256dfd"/>
<rect x="111.1" y="188.0" width="2.9" height="2.2" fill="#227ff4"/>
<rect x="113.9" y="188.0" width="2.9" height="2.2" fill="#1f90e9"/>
<rect x="116.7" y="188.0" width="2.9" height="2.2" fill="#1e96e6"/>
<rect x="119.5" y="188.0" width="2.9" height="2.2" fill="#1c9be3"/>
<rect x="122.3" y="188.0" width="2.9" height="2.2" fill="#1e96e6"/>
<rect x="125.0" y="188.0" width="2.9" height="2.2" fill="#1f90e9"/>
<rect x="127.8" y="188.0" width="2.9" height="2.2" fill="#2285f0"/>
<rect x="130.6" y="188.0" width="2.9" height="2.2" fill="#227ff4"/>
<rect x="133.4" y="188.0" width="11.3" height="2.2" fill="#2279f8"/>
<rect x="144.6" y="188.0" width="2.9" height="2.2" fill="#227ff4"/>
<rect x="147.4" y="188.0" width="2.9" height="2.2" fill="#2285f0"/>
<rect x="150.2" y="188.0" width="2.9" height="2.2" fill="#1f90e9"/>
<rect x="152.9" y="188.0" width="2.9" height="2.2" fill="#1e96e6"/>
<rect x="155.7" y="188.0" width="2.9" height="2.2" fill="#1c9be3"/>
<rect x="158.5" y="188.0" width="2.9" height="2.2" fill="#1e96e6"/>
<rect x="161.3" y="188.0" width="2.9" height="2.2" fill="#1f90e9"/>
<rect x="164.1" y="188.0" width="2.9" height="2.2" fill="#227ff4"/>
<rect x="166.9" y="188.0" width="2.9" height="2.2" fill="#256dfd"/>
<rect x="169.7" y="188.0" width="2.9" height="2.2" fill="#2967fe"/>
<rect x="111.1" y="185.9" width="2.9" height="2.2" fill="#256dfd"/>
<rect x="113.9" y="185.9" width="2.9" height="2.2" fill="#2279f8"/>
<rect x="116.7" y="185.9" width="2.9" height="2.2" fill="#208bec"/>
<rect x="119.5" y="185.9" width="2.9" height="2.2" fill="#1c9be3"/>
<rect x="122.3" y="185.9" width="2.9" height="2.2" fill="#17a6dc"/>
<rect x="125.0" y="185.9" width="2.9" height="2.2" fill="#12abd8"/>
<rect x="127.8" y="185.9" width="2.9" height="2.2" fill="#0aafd2"/>
<rect x="130.6" y="185.9" width="5.7" height="2.2" fill="#12abd8"/>
<rect x="136.2" y="185.9" width="5.7" height="2.2" fill="#17a6dc"/>
<rect x="141.8" y="185.9" width="5.7" height="2.2" fill="#12abd8"/>
<rect x="147.4" y="185.9" width="2.9" height="2.2" fill="#0aafd2"/>
<rect x="150.2" y="185.9" width="2.9" height="2.2" fill="#12abd8"/>
<rect x="152.9" y="185.9" width="2.9" height="2.2" fill="#17a6dc"/>
<rect x="155.7" y="185.9" width="2.9" height="2.2" fill="#1c9be3"/>
<rect x="158.5" y="185.9" width="2.9" height="2.2" fill="#208bec"/>
<rect x="161.3" y="185.9" width="2.9" height="2.2" fill="#2279f8"/>
<rect x="164.1" y="185.9" width="2.9" height="2.2" fill="#256dfd"/>
<rect x="113.9" y="183.7" width="2.9" height="2.2" fill="#2967fe"/>
<rect x="116.7" y="183.7" width="2.9" height="2.2" fill="#2273fb"/>
<rect x="119.5" y="183.7" width="2.9" height="2.2" fill="#227ff4"/>
<rect x="122.3" y="183.7" width="2.9" height="2.2" fill="#1f90e9"/>
<rect x="125.0" y="183.7" width="2.9" height="2.2" fill="#17a6dc"/>
<rect x="127.8" y="183.7" width="2.9" height="2.2" fill="#03b4cc"/>
<rect x="130.6" y="183.7" width="2.9" height="2.2" fill="#09bcbe"/>
<rect x="133.4" y="183.7" width="2.9" height="2.2" fill="#15bfb7"/>
<rect x="136.2" y="183.7" width="5.7" height="2.2" fill="#21c1b0"/>
<rect x="141.8" y="183.7" width="2.9" height="2.2" fill="#15bfb7"/>
<rect x="144.6" y="183.7" width="2.9" height="2.2" fill="#09bcbe"/>
<rect x="147.4" y="183.7" width="2.9" height="2.2" fill="#03b4cc"/>
<rect x="150.2" y="183.7" width="2.9" height="2.2" fill="#17a6dc"/>
<rect x="152.9" y="183.7" width="2.9" height="2.2" fill="#1f90e9"/>
<rect x="155.7" y="183.7" width="2.9" height="2.2" fill="#227ff4"/>
<rect x="158.5" y="183.7" width="2.9" height="2.2" fill="#2273fb"/>
<rect x="161.3" y="183.7" width="2.9" height="2.2" fill="#2967fe"/>
<rect x="119.5" y="181.6" width="2.9" height="2.2" fill="#2967fe"/>
<rect x="122.3" y="181.6" width="2.9" height="2.2" fill="#2273fb"/>
<rect x="125.0" y="181.6" width="2.9" height="2.2" fill="#227ff4"/>
<rect x="127.8" y="181.6" width="2.9" height="2.2" fill="#1f90e9"/>
<rect x="130.6" y="181.6" width="2.9" height="2.2" fill="#1c9be3"/>
<rect x="133.4" y="181.6" width="2.9" height="2.2" fill="#12abd8"/>
<rect x="136.2" y="181.6" width="5.7" height="2.2" fill="#0aafd2"/>
<rect x="141.8" y="181.6" width="2.9" height="2.2" fill="#12abd8"/>
<rect x="144.6" y="181.6" width="2.9" height="2.2" fill="#1c9be3"/>
<rect x="147.4" y="181.6" width="2.9" height="2.2" fill="#1f90e9"/>
<rect x="150.2" y="181.6" width="2.9" height="2.2" fill="#227ff4"/>
<rect x="152.9" y="181.6" width="2.9" height="2.2" fill="#2273fb"/>
<rect x="155.7" y="181.6" width="2.9" height="2.2" fill="#2967fe"/>
<rect x="125.0" y="179.4" width="2.9" height="2.2" fill="#2967fe"/>
<rect x="127.8" y="179.4" width="2.9" height="2.2" fill="#256dfd"/>
<rect x="130.6" y="179.4" width="2.9" height="2.2" fill="#2273fb"/>
<rect x="133.4" y="179.4" width="2.9" height="2.2" fill="#2279f8"/>
<rect x="136.2" y="179.4" width="5.7" height="2.2" fill="#227ff4"/>
<rect x="141.8" y="179.4" width="2.9" height="2.2" fill="#2279f8"/>
<rect x="144.6" y="179.4" width="2.9" height="2.2" fill="#2273fb"/>
<rect x="147.4" y="179.4" width="2.9" height="2.2" fill="#256dfd"/>
<rect x="150.2" y="179.4" width="2.9" height="2.2" fill="#2967fe"/>
<rect x="136.2" y="177.3" width="5.7" height="2.2" fill="#2967fe"/>
</g>
<path d="M55.30,284.30 L55.41,278.70 L55.76,273.12 L56.33,267.56 L57.13,262.05 L58.15,256.61 L59.40,251.24 L60.86,245.95 L62.54,240.78 L64.42,235.72 L66.51,230.80 L68.80,226.02 L71.29,221.41 L73.95,216.96 L76.80,212.70 L79.82,208.64 L82.99,204.78 L86.33,201.15 L89.80,197.74 L93.41,194.56 L97.15,191.64 L101.00,188.96 L104.96,186.55 L109.00,184.41 L113.14,182.54 L117.34,180.95 L121.60,179.64 L125.91,178.62 L130.25,177.89 L134.62,177.45 L139.00,177.30 L143.38,177.45 L147.75,177.89 L152.09,178.62 L156.40,179.64 L160.66,180.95 L164.86,182.54 L169.00,184.41 L173.04,186.55 L177.00,188.96 L180.85,191.64 L184.59,194.56 L188.20,197.74 L191.67,201.15 L195.01,204.78 L198.18,208.64 L201.20,212.70 L204.05,216.96 L206.71,221.41 L209.20,226.02 L211.49,230.80 L213.58,235.72 L215.46,240.78 L217.14,245.95 L218.60,251.24 L219.85,256.61 L220.87,262.05 L221.67,267.56 L222.24,273.12 L222.59,278.70 L222.70,284.30 L194.80,284.30 L194.72,279.82 L194.49,275.35 L194.11,270.91 L193.58,266.50 L192.90,262.15 L192.07,257.85 L191.09,253.62 L189.98,249.48 L188.72,245.44 L187.32,241.50 L185.80,237.68 L184.14,233.99 L182.36,230.43 L180.47,227.02 L178.46,223.77 L176.34,220.69 L174.12,217.78 L171.80,215.05 L169.39,212.51 L166.90,210.17 L164.33,208.03 L161.70,206.10 L159.00,204.39 L156.24,202.89 L153.44,201.62 L150.60,200.57 L147.73,199.75 L144.83,199.17 L141.92,198.82 L139.00,198.70 L136.08,198.82 L133.17,199.17 L130.27,199.75 L127.40,200.57 L124.56,201.62 L121.76,202.89 L119.00,204.39 L116.30,206.10 L113.67,208.03 L111.10,210.17 L108.61,212.51 L106.20,215.05 L103.88,217.78 L101.66,220.69 L99.54,223.77 L97.53,227.02 L95.64,230.43 L93.86,233.99 L92.20,237.68 L90.68,241.50 L89.28,245.44 L88.02,249.48 L86.91,253.62 L85.93,257.85 L85.10,262.15 L84.42,266.50 L83.89,270.91 L83.51,275.35 L83.28,279.82 L83.20,284.30Z" fill="none" stroke="#0a0a0a" stroke-width="1.1" stroke-linejoin="miter"/>
<line x1="321.3" y1="174.2" x2="321.3" y2="288.2" stroke="#efefef" stroke-width="0.6"/>
<line x1="349.2" y1="174.2" x2="349.2" y2="288.2" stroke="#efefef" stroke-width="0.6"/>
<line x1="377.1" y1="174.2" x2="377.1" y2="288.2" stroke="#efefef" stroke-width="0.6"/>
<line x1="405.0" y1="174.2" x2="405.0" y2="288.2" stroke="#efefef" stroke-width="0.6"/>
<line x1="432.9" y1="174.2" x2="432.9" y2="288.2" stroke="#efefef" stroke-width="0.6"/>
<line x1="460.8" y1="174.2" x2="460.8" y2="288.2" stroke="#efefef" stroke-width="0.6"/>
<line x1="488.7" y1="174.2" x2="488.7" y2="288.2" stroke="#efefef" stroke-width="0.6"/>
<line x1="298.4" y1="284.3" x2="512.0" y2="284.3" stroke="#efefef" stroke-width="0.6"/>
<line x1="298.4" y1="262.9" x2="512.0" y2="262.9" stroke="#efefef" stroke-width="0.6"/>
<line x1="298.4" y1="241.5" x2="512.0" y2="241.5" stroke="#efefef" stroke-width="0.6"/>
<line x1="298.4" y1="220.1" x2="512.0" y2="220.1" stroke="#efefef" stroke-width="0.6"/>
<line x1="298.4" y1="198.7" x2="512.0" y2="198.7" stroke="#efefef" stroke-width="0.6"/>
<line x1="298.4" y1="177.3" x2="512.0" y2="177.3" stroke="#efefef" stroke-width="0.6"/>
<rect x="298.4" y="174.2" width="213.60000000000002" height="114.0" fill="none" stroke="#d4d4d4" stroke-width="0.7"/>
<line x1="321.3" y1="288.2" x2="321.3" y2="286.2" stroke="#d4d4d4" stroke-width="0.7"/>
<line x1="321.3" y1="174.2" x2="321.3" y2="176.2" stroke="#d4d4d4" stroke-width="0.7"/>
<text x="321.8" y="299.1" font-size="9.2" text-anchor="middle" >-3</text>
<line x1="349.2" y1="288.2" x2="349.2" y2="286.2" stroke="#d4d4d4" stroke-width="0.7"/>
<line x1="349.2" y1="174.2" x2="349.2" y2="176.2" stroke="#d4d4d4" stroke-width="0.7"/>
<text x="349.7" y="299.1" font-size="9.2" text-anchor="middle" >-2</text>
<line x1="377.1" y1="288.2" x2="377.1" y2="286.2" stroke="#d4d4d4" stroke-width="0.7"/>
<line x1="377.1" y1="174.2" x2="377.1" y2="176.2" stroke="#d4d4d4" stroke-width="0.7"/>
<text x="377.6" y="299.1" font-size="9.2" text-anchor="middle" >-1</text>
<line x1="405.0" y1="288.2" x2="405.0" y2="286.2" stroke="#d4d4d4" stroke-width="0.7"/>
<line x1="405.0" y1="174.2" x2="405.0" y2="176.2" stroke="#d4d4d4" stroke-width="0.7"/>
<text x="405.0" y="299.1" font-size="9.2" text-anchor="middle" >0</text>
<line x1="432.9" y1="288.2" x2="432.9" y2="286.2" stroke="#d4d4d4" stroke-width="0.7"/>
<line x1="432.9" y1="174.2" x2="432.9" y2="176.2" stroke="#d4d4d4" stroke-width="0.7"/>
<text x="432.9" y="299.1" font-size="9.2" text-anchor="middle" >1</text>
<line x1="460.8" y1="288.2" x2="460.8" y2="286.2" stroke="#d4d4d4" stroke-width="0.7"/>
<line x1="460.8" y1="174.2" x2="460.8" y2="176.2" stroke="#d4d4d4" stroke-width="0.7"/>
<text x="460.8" y="299.1" font-size="9.2" text-anchor="middle" >2</text>
<line x1="488.7" y1="288.2" x2="488.7" y2="286.2" stroke="#d4d4d4" stroke-width="0.7"/>
<line x1="488.7" y1="174.2" x2="488.7" y2="176.2" stroke="#d4d4d4" stroke-width="0.7"/>
<text x="488.7" y="299.1" font-size="9.2" text-anchor="middle" >3</text>
<line x1="298.4" y1="284.3" x2="300.4" y2="284.3" stroke="#d4d4d4" stroke-width="0.7"/>
<line x1="512.0" y1="284.3" x2="510.0" y2="284.3" stroke="#d4d4d4" stroke-width="0.7"/>
<text x="293.8" y="287.3" font-size="9.2" text-anchor="middle" >0</text>
<line x1="298.4" y1="262.9" x2="300.4" y2="262.9" stroke="#d4d4d4" stroke-width="0.7"/>
<line x1="512.0" y1="262.9" x2="510.0" y2="262.9" stroke="#d4d4d4" stroke-width="0.7"/>
<text x="293.8" y="265.9" font-size="9.2" text-anchor="middle" >1</text>
<line x1="298.4" y1="241.5" x2="300.4" y2="241.5" stroke="#d4d4d4" stroke-width="0.7"/>
<line x1="512.0" y1="241.5" x2="510.0" y2="241.5" stroke="#d4d4d4" stroke-width="0.7"/>
<text x="293.8" y="244.5" font-size="9.2" text-anchor="middle" >2</text>
<line x1="298.4" y1="220.1" x2="300.4" y2="220.1" stroke="#d4d4d4" stroke-width="0.7"/>
<line x1="512.0" y1="220.1" x2="510.0" y2="220.1" stroke="#d4d4d4" stroke-width="0.7"/>
<text x="293.8" y="223.1" font-size="9.2" text-anchor="middle" >3</text>
<line x1="298.4" y1="198.7" x2="300.4" y2="198.7" stroke="#d4d4d4" stroke-width="0.7"/>
<line x1="512.0" y1="198.7" x2="510.0" y2="198.7" stroke="#d4d4d4" stroke-width="0.7"/>
<text x="293.8" y="201.7" font-size="9.2" text-anchor="middle" >4</text>
<line x1="298.4" y1="177.3" x2="300.4" y2="177.3" stroke="#d4d4d4" stroke-width="0.7"/>
<line x1="512.0" y1="177.3" x2="510.0" y2="177.3" stroke="#d4d4d4" stroke-width="0.7"/>
<text x="293.8" y="180.3" font-size="9.2" text-anchor="middle" >5</text>
<text x="404.7" y="311.4" font-size="9.5" text-anchor="middle" textLength="56.6" lengthAdjust="spacingAndGlyphs">Distance (cm)</text>
<text transform="translate(286.8,230.4) rotate(-90)" font-size="9.5" text-anchor="middle" textLength="56.6" lengthAdjust="spacingAndGlyphs">Distance (cm)</text>
<text x="412.6" y="327.6" font-size="11.6" text-anchor="middle" >(<tspan font-weight="bold">f</tspan>)</text>
<clipPath id="cf"><path d="M321.30,284.30 L321.41,278.70 L321.76,273.12 L322.33,267.56 L323.13,262.05 L324.15,256.61 L325.40,251.24 L326.86,245.95 L328.54,240.78 L330.42,235.72 L332.51,230.80 L334.80,226.02 L337.29,221.41 L339.95,216.96 L342.80,212.70 L345.82,208.64 L348.99,204.78 L352.33,201.15 L355.80,197.74 L359.41,194.56 L363.15,191.64 L367.00,188.96 L370.96,186.55 L375.00,184.41 L379.14,182.54 L383.34,180.95 L387.60,179.64 L391.91,178.62 L396.25,177.89 L400.62,177.45 L405.00,177.30 L409.38,177.45 L413.75,177.89 L418.09,178.62 L422.40,179.64 L426.66,180.95 L430.86,182.54 L435.00,184.41 L439.04,186.55 L443.00,188.96 L446.85,191.64 L450.59,194.56 L454.20,197.74 L457.67,201.15 L461.01,204.78 L464.18,208.64 L467.20,212.70 L470.05,216.96 L472.71,221.41 L475.20,226.02 L477.49,230.80 L479.58,235.72 L481.46,240.78 L483.14,245.95 L484.60,251.24 L485.85,256.61 L486.87,262.05 L487.67,267.56 L488.24,273.12 L488.59,278.70 L488.70,284.30 L460.80,284.30 L460.72,279.82 L460.49,275.35 L460.11,270.91 L459.58,266.50 L458.90,262.15 L458.07,257.85 L457.09,253.62 L455.98,249.48 L454.72,245.44 L453.32,241.50 L451.80,237.68 L450.14,233.99 L448.36,230.43 L446.47,227.02 L444.46,223.77 L442.34,220.69 L440.12,217.78 L437.80,215.05 L435.39,212.51 L432.90,210.17 L430.33,208.03 L427.70,206.10 L425.00,204.39 L422.24,202.89 L419.44,201.62 L416.60,200.57 L413.73,199.75 L410.83,199.17 L407.92,198.82 L405.00,198.70 L402.08,198.82 L399.17,199.17 L396.27,199.75 L393.40,200.57 L390.56,201.62 L387.76,202.89 L385.00,204.39 L382.30,206.10 L379.67,208.03 L377.10,210.17 L374.61,212.51 L372.20,215.05 L369.88,217.78 L367.66,220.69 L365.54,223.77 L363.53,227.02 L361.64,230.43 L359.86,233.99 L358.20,237.68 L356.68,241.50 L355.28,245.44 L354.02,249.48 L352.91,253.62 L351.93,257.85 L351.10,262.15 L350.42,266.50 L349.89,270.91 L349.51,275.35 L349.28,279.82 L349.20,284.30Z"/></clipPath>
<g clip-path="url(#cf)" shape-rendering="crispEdges">
<path d="M321.30,284.30 L321.41,278.70 L321.76,273.12 L322.33,267.56 L323.13,262.05 L324.15,256.61 L325.40,251.24 L326.86,245.95 L328.54,240.78 L330.42,235.72 L332.51,230.80 L334.80,226.02 L337.29,221.41 L339.95,216.96 L342.80,212.70 L345.82,208.64 L348.99,204.78 L352.33,201.15 L355.80,197.74 L359.41,194.56 L363.15,191.64 L367.00,188.96 L370.96,186.55 L375.00,184.41 L379.14,182.54 L383.34,180.95 L387.60,179.64 L391.91,178.62 L396.25,177.89 L400.62,177.45 L405.00,177.30 L409.38,177.45 L413.75,177.89 L418.09,178.62 L422.40,179.64 L426.66,180.95 L430.86,182.54 L435.00,184.41 L439.04,186.55 L443.00,188.96 L446.85,191.64 L450.59,194.56 L454.20,197.74 L457.67,201.15 L461.01,204.78 L464.18,208.64 L467.20,212.70 L470.05,216.96 L472.71,221.41 L475.20,226.02 L477.49,230.80 L479.58,235.72 L481.46,240.78 L483.14,245.95 L484.60,251.24 L485.85,256.61 L486.87,262.05 L487.67,267.56 L488.24,273.12 L488.59,278.70 L488.70,284.30 L460.80,284.30 L460.72,279.82 L460.49,275.35 L460.11,270.91 L459.58,266.50 L458.90,262.15 L458.07,257.85 L457.09,253.62 L455.98,249.48 L454.72,245.44 L453.32,241.50 L451.80,237.68 L450.14,233.99 L448.36,230.43 L446.47,227.02 L444.46,223.77 L442.34,220.69 L440.12,217.78 L437.80,215.05 L435.39,212.51 L432.90,210.17 L430.33,208.03 L427.70,206.10 L425.00,204.39 L422.24,202.89 L419.44,201.62 L416.60,200.57 L413.73,199.75 L410.83,199.17 L407.92,198.82 L405.00,198.70 L402.08,198.82 L399.17,199.17 L396.27,199.75 L393.40,200.57 L390.56,201.62 L387.76,202.89 L385.00,204.39 L382.30,206.10 L379.67,208.03 L377.10,210.17 L374.61,212.51 L372.20,215.05 L369.88,217.78 L367.66,220.69 L365.54,223.77 L363.53,227.02 L361.64,230.43 L359.86,233.99 L358.20,237.68 L356.68,241.50 L355.28,245.44 L354.02,249.48 L352.91,253.62 L351.93,257.85 L351.10,262.15 L350.42,266.50 L349.89,270.91 L349.51,275.35 L349.28,279.82 L349.20,284.30Z" fill="#2d62fe"/>
<rect x="321.3" y="282.2" width="30.8" height="2.2" fill="#2f5dfd"/>
<rect x="460.8" y="282.2" width="11.3" height="2.2" fill="#2f5dfd"/>
<rect x="321.3" y="280.0" width="30.8" height="2.2" fill="#2f5dfd"/>
<rect x="460.8" y="280.0" width="11.3" height="2.2" fill="#2f5dfd"/>
<rect x="321.3" y="277.9" width="30.8" height="2.2" fill="#2f5dfd"/>
<rect x="460.8" y="277.9" width="11.3" height="2.2" fill="#2f5dfd"/>
<rect x="321.3" y="275.7" width="30.8" height="2.2" fill="#2f5dfd"/>
<rect x="460.8" y="275.7" width="11.3" height="2.2" fill="#2f5dfd"/>
<rect x="321.3" y="273.6" width="30.8" height="2.2" fill="#2f5dfd"/>
<rect x="460.8" y="273.6" width="11.3" height="2.2" fill="#2f5dfd"/>
<rect x="321.3" y="271.5" width="30.8" height="2.2" fill="#2f5dfd"/>
<rect x="460.8" y="271.5" width="11.3" height="2.2" fill="#2f5dfd"/>
<rect x="321.3" y="269.3" width="30.8" height="2.2" fill="#2f5dfd"/>
<rect x="460.8" y="269.3" width="11.3" height="2.2" fill="#2f5dfd"/>
<rect x="321.3" y="267.2" width="33.6" height="2.2" fill="#2f5dfd"/>
<rect x="460.8" y="267.2" width="11.3" height="2.2" fill="#2f5dfd"/>
<rect x="477.5" y="267.2" width="2.9" height="2.2" fill="#2967fe"/>
<rect x="321.3" y="265.0" width="33.6" height="2.2" fill="#2f5dfd"/>
<rect x="460.8" y="265.0" width="11.3" height="2.2" fill="#2f5dfd"/>
<rect x="474.8" y="265.0" width="5.7" height="2.2" fill="#2967fe"/>
<rect x="321.3" y="262.9" width="33.6" height="2.2" fill="#2f5dfd"/>
<rect x="460.8" y="262.9" width="11.3" height="2.2" fill="#2f5dfd"/>
<rect x="474.8" y="262.9" width="5.7" height="2.2" fill="#2967fe"/>
<rect x="321.3" y="260.8" width="33.6" height="2.2" fill="#2f5dfd"/>
<rect x="460.8" y="260.8" width="8.5" height="2.2" fill="#2f5dfd"/>
<rect x="474.8" y="260.8" width="5.7" height="2.2" fill="#2967fe"/>
<rect x="321.3" y="258.6" width="33.6" height="2.2" fill="#2f5dfd"/>
<rect x="460.8" y="258.6" width="8.5" height="2.2" fill="#2f5dfd"/>
<rect x="472.0" y="258.6" width="2.9" height="2.2" fill="#2967fe"/>
<rect x="474.8" y="258.6" width="2.9" height="2.2" fill="#256dfd"/>
<rect x="477.5" y="258.6" width="5.7" height="2.2" fill="#2967fe"/>
<rect x="321.3" y="256.5" width="33.6" height="2.2" fill="#2f5dfd"/>
<rect x="458.0" y="256.5" width="11.3" height="2.2" fill="#2f5dfd"/>
<rect x="472.0" y="256.5" width="2.9" height="2.2" fill="#2967fe"/>
<rect x="474.8" y="256.5" width="5.7" height="2.2" fill="#256dfd"/>
<rect x="480.3" y="256.5" width="2.9" height="2.2" fill="#2967fe"/>
<rect x="321.3" y="254.3" width="33.6" height="2.2" fill="#2f5dfd"/>
<rect x="458.0" y="254.3" width="11.3" height="2.2" fill="#2f5dfd"/>
<rect x="472.0" y="254.3" width="8.5" height="2.2" fill="#256dfd"/>
<rect x="321.3" y="252.2" width="36.4" height="2.2" fill="#2f5dfd"/>
<rect x="458.0" y="252.2" width="11.3" height="2.2" fill="#2f5dfd"/>
<rect x="469.2" y="252.2" width="2.9" height="2.2" fill="#2967fe"/>
<rect x="472.0" y="252.2" width="2.9" height="2.2" fill="#256dfd"/>
<rect x="474.8" y="252.2" width="2.9" height="2.2" fill="#2273fb"/>
<rect x="477.5" y="252.2" width="2.9" height="2.2" fill="#256dfd"/>
<rect x="321.3" y="250.1" width="36.4" height="2.2" fill="#2f5dfd"/>
<rect x="458.0" y="250.1" width="5.7" height="2.2" fill="#2f5dfd"/>
<rect x="463.6" y="250.1" width="2.9" height="2.2" fill="#3157fc"/>
<rect x="466.4" y="250.1" width="2.9" height="2.2" fill="#2f5dfd"/>
<rect x="469.2" y="250.1" width="2.9" height="2.2" fill="#2967fe"/>
<rect x="472.0" y="250.1" width="5.7" height="2.2" fill="#2273fb"/>
<rect x="477.5" y="250.1" width="2.9" height="2.2" fill="#256dfd"/>
<rect x="321.3" y="247.9" width="36.4" height="2.2" fill="#2f5dfd"/>
<rect x="455.2" y="247.9" width="8.5" height="2.2" fill="#2f5dfd"/>
<rect x="463.6" y="247.9" width="2.9" height="2.2" fill="#3157fc"/>
<rect x="469.2" y="247.9" width="2.9" height="2.2" fill="#256dfd"/>
<rect x="472.0" y="247.9" width="5.7" height="2.2" fill="#2279f8"/>
<rect x="477.5" y="247.9" width="2.9" height="2.2" fill="#256dfd"/>
<rect x="324.1" y="245.8" width="33.6" height="2.2" fill="#2f5dfd"/>
<rect x="455.2" y="245.8" width="8.5" height="2.2" fill="#2f5dfd"/>
<rect x="463.6" y="245.8" width="2.9" height="2.2" fill="#3157fc"/>
<rect x="469.2" y="245.8" width="2.9" height="2.2" fill="#256dfd"/>
<rect x="472.0" y="245.8" width="2.9" height="2.2" fill="#227ff4"/>
<rect x="474.8" y="245.8" width="2.9" height="2.2" fill="#2279f8"/>
<rect x="477.5" y="245.8" width="2.9" height="2.2" fill="#256dfd"/>
<rect x="324.1" y="243.6" width="33.6" height="2.2" fill="#2f5dfd"/>
<rect x="455.2" y="243.6" width="5.7" height="2.2" fill="#2f5dfd"/>
<rect x="460.8" y="243.6" width="5.7" height="2.2" fill="#3157fc"/>
<rect x="466.4" y="243.6" width="2.9" height="2.2" fill="#2967fe"/>
<rect x="469.2" y="243.6" width="2.9" height="2.2" fill="#2273fb"/>
<rect x="472.0" y="243.6" width="2.9" height="2.2" fill="#2285f0"/>
<rect x="474.8" y="243.6" width="2.9" height="2.2" fill="#227ff4"/>
<rect x="477.5" y="243.6" width="2.9" height="2.2" fill="#256dfd"/>
<rect x="324.1" y="241.5" width="36.4" height="2.2" fill="#2f5dfd"/>
<rect x="452.4" y="241.5" width="8.5" height="2.2" fill="#2f5dfd"/>
<rect x="460.8" y="241.5" width="2.9" height="2.2" fill="#3252f9"/>
<rect x="463.6" y="241.5" width="2.9" height="2.2" fill="#2f5dfd"/>
<rect x="466.4" y="241.5" width="2.9" height="2.2" fill="#2967fe"/>
<rect x="469.2" y="241.5" width="2.9" height="2.2" fill="#227ff4"/>
<rect x="472.0" y="241.5" width="2.9" height="2.2" fill="#208bec"/>
<rect x="474.8" y="241.5" width="2.9" height="2.2" fill="#227ff4"/>
<rect x="477.5" y="241.5" width="2.9" height="2.2" fill="#256dfd"/>
<rect x="324.1" y="239.4" width="36.4" height="2.2" fill="#2f5dfd"/>
<rect x="452.4" y="239.4" width="8.5" height="2.2" fill="#2f5dfd"/>
<rect x="460.8" y="239.4" width="2.9" height="2.2" fill="#3252f9"/>
<rect x="463.6" y="239.4" width="2.9" height="2.2" fill="#2f5dfd"/>
<rect x="466.4" y="239.4" width="2.9" height="2.2" fill="#256dfd"/>
<rect x="469.2" y="239.4" width="2.9" height="2.2" fill="#2285f0"/>
<rect x="472.0" y="239.4" width="2.9" height="2.2" fill="#208bec"/>
<rect x="474.8" y="239.4" width="2.9" height="2.2" fill="#227ff4"/>
<rect x="477.5" y="239.4" width="2.9" height="2.2" fill="#2967fe"/>
<rect x="326.9" y="237.2" width="33.6" height="2.2" fill="#2f5dfd"/>
<rect x="449.6" y="237.2" width="8.5" height="2.2" fill="#2f5dfd"/>
<rect x="458.0" y="237.2" width="2.9" height="2.2" fill="#3157fc"/>
<rect x="460.8" y="237.2" width="2.9" height="2.2" fill="#3252f9"/>
<rect x="466.4" y="237.2" width="2.9" height="2.2" fill="#2273fb"/>
<rect x="469.2" y="237.2" width="2.9" height="2.2" fill="#208bec"/>
<rect x="472.0" y="237.2" width="2.9" height="2.2" fill="#1f90e9"/>
<rect x="474.8" y="237.2" width="2.9" height="2.2" fill="#227ff4"/>
<rect x="477.5" y="237.2" width="2.9" height="2.2" fill="#2967fe"/>
<rect x="326.9" y="235.1" width="8.5" height="2.2" fill="#2f5dfd"/>
<rect x="338.0" y="235.1" width="25.2" height="2.2" fill="#2f5dfd"/>
<rect x="449.6" y="235.1" width="8.5" height="2.2" fill="#2f5dfd"/>
<rect x="458.0" y="235.1" width="2.9" height="2.2" fill="#3252f9"/>
<rect x="460.8" y="235.1" width="2.9" height="2.2" fill="#3157fc"/>
<rect x="463.6" y="235.1" width="2.9" height="2.2" fill="#2967fe"/>
<rect x="466.4" y="235.1" width="2.9" height="2.2" fill="#2279f8"/>
<rect x="469.2" y="235.1" width="5.7" height="2.2" fill="#1e96e6"/>
<rect x="474.8" y="235.1" width="2.9" height="2.2" fill="#2279f8"/>
<rect x="477.5" y="235.1" width="2.9" height="2.2" fill="#2967fe"/>
<rect x="326.9" y="232.9" width="8.5" height="2.2" fill="#2f5dfd"/>
<rect x="340.8" y="232.9" width="22.4" height="2.2" fill="#2f5dfd"/>
<rect x="449.6" y="232.9" width="8.5" height="2.2" fill="#2f5dfd"/>
<rect x="458.0" y="232.9" width="2.9" height="2.2" fill="#324df6"/>
<rect x="460.8" y="232.9" width="2.9" height="2.2" fill="#2f5dfd"/>
<rect x="463.6" y="232.9" width="2.9" height="2.2" fill="#2967fe"/>
<rect x="466.4" y="232.9" width="2.9" height="2.2" fill="#2285f0"/>
<rect x="469.2" y="232.9" width="2.9" height="2.2" fill="#1c9be3"/>
<rect x="472.0" y="232.9" width="2.9" height="2.2" fill="#1e96e6"/>
<rect x="474.8" y="232.9" width="2.9" height="2.2" fill="#2279f8"/>
<rect x="477.5" y="232.9" width="2.9" height="2.2" fill="#2967fe"/>
<rect x="329.7" y="230.8" width="5.7" height="2.2" fill="#2f5dfd"/>
<rect x="340.8" y="230.8" width="22.4" height="2.2" fill="#2f5dfd"/>
<rect x="446.9" y="230.8" width="8.5" height="2.2" fill="#2f5dfd"/>
<rect x="455.2" y="230.8" width="2.9" height="2.2" fill="#3252f9"/>
<rect x="458.0" y="230.8" width="2.9" height="2.2" fill="#324df6"/>
<rect x="463.6" y="230.8" width="2.9" height="2.2" fill="#2273fb"/>
<rect x="466.4" y="230.8" width="2.9" height="2.2" fill="#1f90e9"/>
<rect x="469.2" y="230.8" width="2.9" height="2.2" fill="#17a6dc"/>
<rect x="472.0" y="230.8" width="2.9" height="2.2" fill="#1e96e6"/>
<rect x="474.8" y="230.8" width="2.9" height="2.2" fill="#2273fb"/>
<rect x="329.7" y="228.7" width="2.9" height="2.2" fill="#2f5dfd"/>
<rect x="340.8" y="228.7" width="25.2" height="2.2" fill="#2f5dfd"/>
<rect x="446.9" y="228.7" width="8.5" height="2.2" fill="#2f5dfd"/>
<rect x="455.2" y="228.7" width="2.9" height="2.2" fill="#3248f2"/>
<rect x="458.0" y="228.7" width="2.9" height="2.2" fill="#3252f9"/>
<rect x="460.8" y="228.7" width="2.9" height="2.2" fill="#2967fe"/>
<rect x="463.6" y="228.7" width="2.9" height="2.2" fill="#2279f8"/>
<rect x="466.4" y="228.7" width="2.9" height="2.2" fill="#1aa0e0"/>
<rect x="469.2" y="228.7" width="2.9" height="2.2" fill="#12abd8"/>
<rect x="472.0" y="228.7" width="2.9" height="2.2" fill="#1f90e9"/>
<rect x="474.8" y="228.7" width="2.9" height="2.2" fill="#2273fb"/>
<rect x="329.7" y="226.5" width="2.9" height="2.2" fill="#2f5dfd"/>
<rect x="343.6" y="226.5" width="22.4" height="2.2" fill="#2f5dfd"/>
<rect x="446.9" y="226.5" width="5.7" height="2.2" fill="#2f5dfd"/>
<rect x="452.4" y="226.5" width="2.9" height="2.2" fill="#3157fc"/>
<rect x="455.2" y="226.5" width="2.9" height="2.2" fill="#3243ee"/>
<rect x="458.0" y="226.5" width="2.9" height="2.2" fill="#2f5dfd"/>
<rect x="460.8" y="226.5" width="2.9" height="2.2" fill="#256dfd"/>
<rect x="463.6" y="226.5" width="2.9" height="2.2" fill="#208bec"/>
<rect x="466.4" y="226.5" width="5.7" height="2.2" fill="#0aafd2"/>
<rect x="472.0" y="226.5" width="2.9" height="2.2" fill="#208bec"/>
<rect x="474.8" y="226.5" width="2.9" height="2.2" fill="#256dfd"/>
<rect x="343.6" y="224.4" width="25.2" height="2.2" fill="#2f5dfd"/>
<rect x="446.9" y="224.4" width="5.7" height="2.2" fill="#2f5dfd"/>
<rect x="452.4" y="224.4" width="2.9" height="2.2" fill="#3248f2"/>
<rect x="455.2" y="224.4" width="2.9" height="2.2" fill="#324df6"/>
<rect x="460.8" y="224.4" width="2.9" height="2.2" fill="#2279f8"/>
<rect x="463.6" y="224.4" width="2.9" height="2.2" fill="#12abd8"/>
<rect x="466.4" y="224.4" width="2.9" height="2.2" fill="#15bfb7"/>
<rect x="469.2" y="224.4" width="2.9" height="2.2" fill="#12abd8"/>
<rect x="472.0" y="224.4" width="2.9" height="2.2" fill="#2285f0"/>
<rect x="474.8" y="224.4" width="2.9" height="2.2" fill="#2967fe"/>
<rect x="332.5" y="222.2" width="2.9" height="2.2" fill="#2f5dfd"/>
<rect x="346.4" y="222.2" width="22.4" height="2.2" fill="#2f5dfd"/>
<rect x="444.1" y="222.2" width="5.7" height="2.2" fill="#2f5dfd"/>
<rect x="449.6" y="222.2" width="2.9" height="2.2" fill="#3157fc"/>
<rect x="452.4" y="222.2" width="2.9" height="2.2" fill="#3243ee"/>
<rect x="455.2" y="222.2" width="2.9" height="2.2" fill="#3157fc"/>
<rect x="458.0" y="222.2" width="2.9" height="2.2" fill="#256dfd"/>
<rect x="460.8" y="222.2" width="2.9" height="2.2" fill="#1c9be3"/>
<rect x="463.6" y="222.2" width="2.9" height="2.2" fill="#36c899"/>
<rect x="466.4" y="222.2" width="2.9" height="2.2" fill="#21c1b0"/>
<rect x="469.2" y="222.2" width="2.9" height="2.2" fill="#1aa0e0"/>
<rect x="472.0" y="222.2" width="2.9" height="2.2" fill="#2279f8"/>
<rect x="332.5" y="220.1" width="2.9" height="2.2" fill="#2f5dfd"/>
<rect x="346.4" y="220.1" width="25.2" height="2.2" fill="#2f5dfd"/>
<rect x="444.1" y="220.1" width="5.7" height="2.2" fill="#2f5dfd"/>
<rect x="449.6" y="220.1" width="5.7" height="2.2" fill="#3248f2"/>
<rect x="455.2" y="220.1" width="2.9" height="2.2" fill="#2967fe"/>
<rect x="458.0" y="220.1" width="2.9" height="2.2" fill="#208bec"/>
<rect x="460.8" y="220.1" width="2.9" height="2.2" fill="#3dca90"/>
<rect x="463.6" y="220.1" width="2.9" height="2.2" fill="#b7c532"/>
<rect x="466.4" y="220.1" width="2.9" height="2.2" fill="#09bcbe"/>
<rect x="469.2" y="220.1" width="2.9" height="2.2" fill="#1f90e9"/>
<rect x="472.0" y="220.1" width="2.9" height="2.2" fill="#256dfd"/>
<rect x="349.2" y="218.0" width="22.4" height="2.2" fill="#2f5dfd"/>
<rect x="441.3" y="218.0" width="5.7" height="2.2" fill="#2f5dfd"/>
<rect x="446.9" y="218.0" width="2.9" height="2.2" fill="#3157fc"/>
<rect x="449.6" y="218.0" width="2.9" height="2.2" fill="#323ee9"/>
<rect x="452.4" y="218.0" width="2.9" height="2.2" fill="#2f5dfd"/>
<rect x="455.2" y="218.0" width="2.9" height="2.2" fill="#2279f8"/>
<rect x="458.0" y="218.0" width="2.9" height="2.2" fill="#01b8c5"/>
<rect x="460.8" y="218.0" width="2.9" height="2.2" fill="#fad62d"/>
<rect x="463.6" y="218.0" width="2.9" height="2.2" fill="#b7c532"/>
<rect x="466.4" y="218.0" width="2.9" height="2.2" fill="#17a6dc"/>
<rect x="469.2" y="218.0" width="2.9" height="2.2" fill="#2279f8"/>
<rect x="472.0" y="218.0" width="2.9" height="2.2" fill="#2967fe"/>
<rect x="349.2" y="215.8" width="25.2" height="2.2" fill="#2f5dfd"/>
<rect x="441.3" y="215.8" width="5.7" height="2.2" fill="#2f5dfd"/>
<rect x="446.9" y="215.8" width="2.9" height="2.2" fill="#3243ee"/>
<rect x="449.6" y="215.8" width="2.9" height="2.2" fill="#3248f2"/>
<rect x="452.4" y="215.8" width="2.9" height="2.2" fill="#2273fb"/>
<rect x="455.2" y="215.8" width="2.9" height="2.2" fill="#17a6dc"/>
<rect x="458.0" y="215.8" width="2.9" height="2.2" fill="#e5bb2d"/>
<rect x="460.8" y="215.8" width="2.9" height="2.2" fill="#f9fb15"/>
<rect x="463.6" y="215.8" width="2.9" height="2.2" fill="#3dca90"/>
<rect x="466.4" y="215.8" width="2.9" height="2.2" fill="#208bec"/>
<rect x="469.2" y="215.8" width="2.9" height="2.2" fill="#256dfd"/>
<rect x="352.0" y="213.7" width="25.2" height="2.2" fill="#2f5dfd"/>
<rect x="438.5" y="213.7" width="5.7" height="2.2" fill="#2f5dfd"/>
<rect x="444.1" y="213.7" width="2.9" height="2.2" fill="#324df6"/>
<rect x="446.9" y="213.7" width="2.9" height="2.2" fill="#323ee9"/>
<rect x="452.4" y="213.7" width="2.9" height="2.2" fill="#1f90e9"/>
<rect x="455.2" y="213.7" width="2.9" height="2.2" fill="#30c5a1"/>
<rect x="458.0" y="213.7" width="2.9" height="2.2" fill="#f9fb15"/>
<rect x="460.8" y="213.7" width="2.9" height="2.2" fill="#f7dc2a"/>
<rect x="463.6" y="213.7" width="2.9" height="2.2" fill="#17a6dc"/>
<rect x="466.4" y="213.7" width="2.9" height="2.2" fill="#2273fb"/>
<rect x="354.8" y="211.5" width="25.2" height="2.2" fill="#2f5dfd"/>
<rect x="435.7" y="211.5" width="5.7" height="2.2" fill="#2f5dfd"/>
<rect x="441.3" y="211.5" width="2.9" height="2.2" fill="#3157fc"/>
<rect x="444.1" y="211.5" width="2.9" height="2.2" fill="#323ee9"/>
<rect x="446.9" y="211.5" width="2.9" height="2.2" fill="#3252f9"/>
<rect x="449.6" y="211.5" width="2.9" height="2.2" fill="#2279f8"/>
<rect x="452.4" y="211.5" width="2.9" height="2.2" fill="#17a6dc"/>
<rect x="455.2" y="211.5" width="2.9" height="2.2" fill="#d0c027"/>
<rect x="458.0" y="211.5" width="2.9" height="2.2" fill="#f9fb15"/>
<rect x="460.8" y="211.5" width="2.9" height="2.2" fill="#09bcbe"/>
<rect x="463.6" y="211.5" width="2.9" height="2.2" fill="#227ff4"/>
<rect x="466.4" y="211.5" width="2.9" height="2.2" fill="#2967fe"/>
<rect x="354.8" y="209.4" width="25.2" height="2.2" fill="#2f5dfd"/>
<rect x="432.9" y="209.4" width="8.5" height="2.2" fill="#2f5dfd"/>
<rect x="441.3" y="209.4" width="5.7" height="2.2" fill="#3243ee"/>
<rect x="446.9" y="209.4" width="2.9" height="2.2" fill="#256dfd"/>
<rect x="449.6" y="209.4" width="2.9" height="2.2" fill="#1f90e9"/>
<rect x="452.4" y="209.4" width="2.9" height="2.2" fill="#15bfb7"/>
<rect x="455.2" y="209.4" width="2.9" height="2.2" fill="#e5bb2d"/>
<rect x="458.0" y="209.4" width="2.9" height="2.2" fill="#61cd71"/>
<rect x="460.8" y="209.4" width="2.9" height="2.2" fill="#2285f0"/>
<rect x="463.6" y="209.4" width="2.9" height="2.2" fill="#2967fe"/>
<rect x="357.6" y="207.3" width="25.2" height="2.2" fill="#2f5dfd"/>
<rect x="432.9" y="207.3" width="5.7" height="2.2" fill="#2f5dfd"/>
<rect x="438.5" y="207.3" width="2.9" height="2.2" fill="#324df6"/>
<rect x="441.3" y="207.3" width="2.9" height="2.2" fill="#323ee9"/>
<rect x="444.1" y="207.3" width="2.9" height="2.2" fill="#2f5dfd"/>
<rect x="446.9" y="207.3" width="2.9" height="2.2" fill="#2285f0"/>
<rect x="449.6" y="207.3" width="2.9" height="2.2" fill="#17a6dc"/>
<rect x="452.4" y="207.3" width="2.9" height="2.2" fill="#2ac3a9"/>
<rect x="455.2" y="207.3" width="2.9" height="2.2" fill="#36c899"/>
<rect x="458.0" y="207.3" width="2.9" height="2.2" fill="#1e96e6"/>
<rect x="460.8" y="207.3" width="2.9" height="2.2" fill="#256dfd"/>
<rect x="360.4" y="205.1" width="28.0" height="2.2" fill="#2f5dfd"/>
<rect x="427.3" y="205.1" width="8.5" height="2.2" fill="#2f5dfd"/>
<rect x="435.7" y="205.1" width="2.9" height="2.2" fill="#3252f9"/>
<rect x="438.5" y="205.1" width="2.9" height="2.2" fill="#323ee9"/>
<rect x="441.3" y="205.1" width="2.9" height="2.2" fill="#3157fc"/>
<rect x="444.1" y="205.1" width="2.9" height="2.2" fill="#2279f8"/>
<rect x="446.9" y="205.1" width="2.9" height="2.2" fill="#1e96e6"/>
<rect x="449.6" y="205.1" width="2.9" height="2.2" fill="#03b4cc"/>
<rect x="452.4" y="205.1" width="2.9" height="2.2" fill="#01b8c5"/>
<rect x="455.2" y="205.1" width="2.9" height="2.2" fill="#1c9be3"/>
<rect x="458.0" y="205.1" width="2.9" height="2.2" fill="#2273fb"/>
<rect x="363.1" y="203.0" width="28.0" height="2.2" fill="#2f5dfd"/>
<rect x="424.5" y="203.0" width="8.5" height="2.2" fill="#2f5dfd"/>
<rect x="432.9" y="203.0" width="2.9" height="2.2" fill="#3252f9"/>
<rect x="435.7" y="203.0" width="2.9" height="2.2" fill="#323ee9"/>
<rect x="438.5" y="203.0" width="2.9" height="2.2" fill="#3252f9"/>
<rect x="441.3" y="203.0" width="2.9" height="2.2" fill="#256dfd"/>
<rect x="444.1" y="203.0" width="2.9" height="2.2" fill="#208bec"/>
<rect x="446.9" y="203.0" width="2.9" height="2.2" fill="#17a6dc"/>
<rect x="449.6" y="203.0" width="2.9" height="2.2" fill="#12abd8"/>
<rect x="452.4" y="203.0" width="2.9" height="2.2" fill="#1c9be3"/>
<rect x="455.2" y="203.0" width="2.9" height="2.2" fill="#2279f8"/>
<rect x="458.0" y="203.0" width="2.9" height="2.2" fill="#2967fe"/>
<rect x="365.9" y="200.8" width="30.8" height="2.2" fill="#2f5dfd"/>
<rect x="421.7" y="200.8" width="8.5" height="2.2" fill="#2f5dfd"/>
<rect x="430.1" y="200.8" width="2.9" height="2.2" fill="#3252f9"/>
<rect x="432.9" y="200.8" width="2.9" height="2.2" fill="#3243ee"/>
<rect x="435.7" y="200.8" width="2.9" height="2.2" fill="#324df6"/>
<rect x="438.5" y="200.8" width="2.9" height="2.2" fill="#2967fe"/>
<rect x="441.3" y="200.8" width="2.9" height="2.2" fill="#227ff4"/>
<rect x="444.1" y="200.8" width="2.9" height="2.2" fill="#1c9be3"/>
<rect x="446.9" y="200.8" width="2.9" height="2.2" fill="#17a6dc"/>
<rect x="449.6" y="200.8" width="2.9" height="2.2" fill="#1e96e6"/>
<rect x="452.4" y="200.8" width="2.9" height="2.2" fill="#227ff4"/>
<rect x="455.2" y="200.8" width="2.9" height="2.2" fill="#2967fe"/>
<rect x="368.7" y="198.7" width="58.7" height="2.2" fill="#2f5dfd"/>
<rect x="427.3" y="198.7" width="2.9" height="2.2" fill="#3252f9"/>
<rect x="430.1" y="198.7" width="2.9" height="2.2" fill="#3248f2"/>
<rect x="432.9" y="198.7" width="2.9" height="2.2" fill="#3252f9"/>
<rect x="435.7" y="198.7" width="2.9" height="2.2" fill="#2967fe"/>
<rect x="438.5" y="198.7" width="2.9" height="2.2" fill="#2279f8"/>
<rect x="441.3" y="198.7" width="2.9" height="2.2" fill="#1f90e9"/>
<rect x="444.1" y="198.7" width="2.9" height="2.2" fill="#1c9be3"/>
<rect x="446.9" y="198.7" width="2.9" height="2.2" fill="#1e96e6"/>
<rect x="449.6" y="198.7" width="2.9" height="2.2" fill="#227ff4"/>
<rect x="452.4" y="198.7" width="2.9" height="2.2" fill="#256dfd"/>
<rect x="371.5" y="196.6" width="53.1" height="2.2" fill="#2f5dfd"/>
<rect x="424.5" y="196.6" width="2.9" height="2.2" fill="#3252f9"/>
<rect x="427.3" y="196.6" width="2.9" height="2.2" fill="#324df6"/>
<rect x="430.1" y="196.6" width="2.9" height="2.2" fill="#3157fc"/>
<rect x="432.9" y="196.6" width="2.9" height="2.2" fill="#2967fe"/>
<rect x="435.7" y="196.6" width="2.9" height="2.2" fill="#2273fb"/>
<rect x="438.5" y="196.6" width="2.9" height="2.2" fill="#208bec"/>
<rect x="441.3" y="196.6" width="2.9" height="2.2" fill="#1e96e6"/>
<rect x="444.1" y="196.6" width="2.9" height="2.2" fill="#1f90e9"/>
<rect x="446.9" y="196.6" width="2.9" height="2.2" fill="#227ff4"/>
<rect x="449.6" y="196.6" width="2.9" height="2.2" fill="#256dfd"/>
<rect x="374.3" y="194.4" width="44.7" height="2.2" fill="#2f5dfd"/>
<rect x="418.9" y="194.4" width="2.9" height="2.2" fill="#3157fc"/>
<rect x="421.7" y="194.4" width="5.7" height="2.2" fill="#3252f9"/>
<rect x="427.3" y="194.4" width="2.9" height="2.2" fill="#2f5dfd"/>
<rect x="430.1" y="194.4" width="2.9" height="2.2" fill="#2967fe"/>
<rect x="432.9" y="194.4" width="2.9" height="2.2" fill="#2273fb"/>
<rect x="435.7" y="194.4" width="2.9" height="2.2" fill="#227ff4"/>
<rect x="438.5" y="194.4" width="5.7" height="2.2" fill="#208bec"/>
<rect x="444.1" y="194.4" width="2.9" height="2.2" fill="#2279f8"/>
<rect x="446.9" y="194.4" width="2.9" height="2.2" fill="#256dfd"/>
<rect x="377.1" y="192.3" width="36.4" height="2.2" fill="#2f5dfd"/>
<rect x="413.4" y="192.3" width="8.5" height="2.2" fill="#3157fc"/>
<rect x="421.7" y="192.3" width="2.9" height="2.2" fill="#2f5dfd"/>
<rect x="427.3" y="192.3" width="2.9" height="2.2" fill="#2967fe"/>
<rect x="430.1" y="192.3" width="2.9" height="2.2" fill="#2273fb"/>
<rect x="432.9" y="192.3" width="2.9" height="2.2" fill="#227ff4"/>
<rect x="435.7" y="192.3" width="2.9" height="2.2" fill="#2285f0"/>
<rect x="438.5" y="192.3" width="2.9" height="2.2" fill="#227ff4"/>
<rect x="441.3" y="192.3" width="2.9" height="2.2" fill="#2273fb"/>
<rect x="444.1" y="192.3" width="2.9" height="2.2" fill="#2967fe"/>
<rect x="382.7" y="190.1" width="39.2" height="2.2" fill="#2f5dfd"/>
<rect x="424.5" y="190.1" width="2.9" height="2.2" fill="#256dfd"/>
<rect x="427.3" y="190.1" width="2.9" height="2.2" fill="#2273fb"/>
<rect x="430.1" y="190.1" width="2.9" height="2.2" fill="#2279f8"/>
<rect x="432.9" y="190.1" width="2.9" height="2.2" fill="#227ff4"/>
<rect x="435.7" y="190.1" width="2.9" height="2.2" fill="#2279f8"/>
<rect x="438.5" y="190.1" width="2.9" height="2.2" fill="#256dfd"/>
<rect x="441.3" y="190.1" width="2.9" height="2.2" fill="#2967fe"/>
<rect x="391.1" y="188.0" width="22.4" height="2.2" fill="#2f5dfd"/>
<rect x="424.5" y="188.0" width="2.9" height="2.2" fill="#2273fb"/>
<rect x="427.3" y="188.0" width="2.9" height="2.2" fill="#2279f8"/>
<rect x="430.1" y="188.0" width="5.7" height="2.2" fill="#2273fb"/>
<rect x="435.7" y="188.0" width="2.9" height="2.2" fill="#256dfd"/>
<rect x="438.5" y="188.0" width="2.9" height="2.2" fill="#2967fe"/>
<rect x="424.5" y="185.9" width="2.9" height="2.2" fill="#2273fb"/>
<rect x="427.3" y="185.9" width="5.7" height="2.2" fill="#256dfd"/>
<rect x="432.9" y="185.9" width="2.9" height="2.2" fill="#2967fe"/>
<rect x="427.3" y="183.7" width="2.9" height="2.2" fill="#2967fe"/>
</g>
<path d="M321.30,284.30 L321.41,278.70 L321.76,273.12 L322.33,267.56 L323.13,262.05 L324.15,256.61 L325.40,251.24 L326.86,245.95 L328.54,240.78 L330.42,235.72 L332.51,230.80 L334.80,226.02 L337.29,221.41 L339.95,216.96 L342.80,212.70 L345.82,208.64 L348.99,204.78 L352.33,201.15 L355.80,197.74 L359.41,194.56 L363.15,191.64 L367.00,188.96 L370.96,186.55 L375.00,184.41 L379.14,182.54 L383.34,180.95 L387.60,179.64 L391.91,178.62 L396.25,177.89 L400.62,177.45 L405.00,177.30 L409.38,177.45 L413.75,177.89 L418.09,178.62 L422.40,179.64 L426.66,180.95 L430.86,182.54 L435.00,184.41 L439.04,186.55 L443.00,188.96 L446.85,191.64 L450.59,194.56 L454.20,197.74 L457.67,201.15 L461.01,204.78 L464.18,208.64 L467.20,212.70 L470.05,216.96 L472.71,221.41 L475.20,226.02 L477.49,230.80 L479.58,235.72 L481.46,240.78 L483.14,245.95 L484.60,251.24 L485.85,256.61 L486.87,262.05 L487.67,267.56 L488.24,273.12 L488.59,278.70 L488.70,284.30 L460.80,284.30 L460.72,279.82 L460.49,275.35 L460.11,270.91 L459.58,266.50 L458.90,262.15 L458.07,257.85 L457.09,253.62 L455.98,249.48 L454.72,245.44 L453.32,241.50 L451.80,237.68 L450.14,233.99 L448.36,230.43 L446.47,227.02 L444.46,223.77 L442.34,220.69 L440.12,217.78 L437.80,215.05 L435.39,212.51 L432.90,210.17 L430.33,208.03 L427.70,206.10 L425.00,204.39 L422.24,202.89 L419.44,201.62 L416.60,200.57 L413.73,199.75 L410.83,199.17 L407.92,198.82 L405.00,198.70 L402.08,198.82 L399.17,199.17 L396.27,199.75 L393.40,200.57 L390.56,201.62 L387.76,202.89 L385.00,204.39 L382.30,206.10 L379.67,208.03 L377.10,210.17 L374.61,212.51 L372.20,215.05 L369.88,217.78 L367.66,220.69 L365.54,223.77 L363.53,227.02 L361.64,230.43 L359.86,233.99 L358.20,237.68 L356.68,241.50 L355.28,245.44 L354.02,249.48 L352.91,253.62 L351.93,257.85 L351.10,262.15 L350.42,266.50 L349.89,270.91 L349.51,275.35 L349.28,279.82 L349.20,284.30Z" fill="none" stroke="#0a0a0a" stroke-width="1.1" stroke-linejoin="miter"/>
<linearGradient id="cb" x1="0" y1="0" x2="0" y2="1"><stop offset="0.00" stop-color="#f9fb15"/><stop offset="0.05" stop-color="#f5e825"/><stop offset="0.10" stop-color="#fad42e"/><stop offset="0.15" stop-color="#fec13a"/><stop offset="0.20" stop-color="#eaba31"/><stop offset="0.25" stop-color="#c8c129"/><stop offset="0.30" stop-color="#9fc942"/><stop offset="0.35" stop-color="#71cd64"/><stop offset="0.40" stop-color="#48cb86"/><stop offset="0.45" stop-color="#2fc5a2"/><stop offset="0.50" stop-color="#12beb9"/><stop offset="0.55" stop-color="#05b2ce"/><stop offset="0.60" stop-color="#18a3df"/><stop offset="0.65" stop-color="#1f92e7"/><stop offset="0.70" stop-color="#2280f3"/><stop offset="0.75" stop-color="#246efd"/><stop offset="0.80" stop-color="#2f5dfd"/><stop offset="0.85" stop-color="#324cf6"/><stop offset="0.90" stop-color="#323ce7"/><stop offset="0.95" stop-color="#2f2ecc"/><stop offset="1.00" stop-color="#2e23a8"/></linearGradient>
<rect x="516.6" y="176.8" width="3.4" height="108.39999999999998" fill="url(#cb)"/>
<text x="522.0" y="179.3" font-size="7.4" text-anchor="start" >2</text>
<text x="522.0" y="201.0" font-size="7.4" text-anchor="start" >1.5</text>
<text x="522.0" y="222.7" font-size="7.4" text-anchor="start" >1</text>
<text x="522.0" y="244.3" font-size="7.4" text-anchor="start" >0.5</text>
<text x="522.0" y="266.0" font-size="7.4" text-anchor="start" >0</text>
<text x="522.0" y="287.7" font-size="7.4" text-anchor="start" >-0.5</text>
<text transform="translate(543.3,231.2) rotate(-90)" font-size="8.6" text-anchor="middle" textLength="82" lengthAdjust="spacingAndGlyphs">Wavelength Shift (nm)</text>
</svg>
</body></html>
